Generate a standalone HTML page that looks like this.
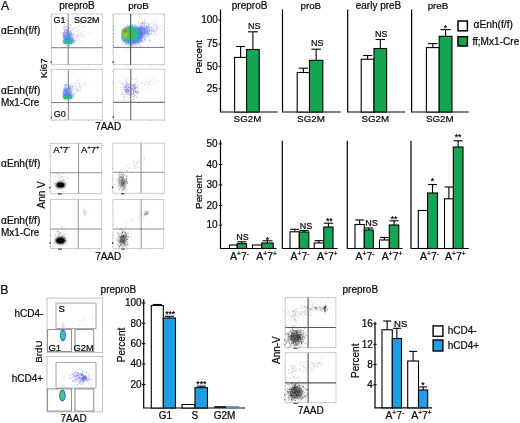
<!DOCTYPE html>
<html><head><meta charset="utf-8"><title>Figure</title>
<style>
html,body{margin:0;padding:0;background:#fff;}
svg{display:block;font-family:"Liberation Sans",Arial,sans-serif;}
text{fill:#0a0a0a;stroke:#0a0a0a;stroke-width:0.22px;}
</style></head><body>
<svg width="520" height="423" viewBox="0 0 520 423">
<defs>
<filter id="b1" x="-50%" y="-50%" width="200%" height="200%"><feGaussianBlur stdDeviation="0.9"/></filter>
<filter id="b2" x="-50%" y="-50%" width="200%" height="200%"><feGaussianBlur stdDeviation="1.6"/></filter>
<filter id="b05" x="-50%" y="-50%" width="200%" height="200%"><feGaussianBlur stdDeviation="0.5"/></filter>
</defs>
<rect width="520" height="423" fill="#fff"/>

<text x="0.9" y="9.6" font-size="12.2" text-anchor="start">A</text>
<text x="77" y="8.8" font-size="10" text-anchor="middle">preproB</text>
<text x="138.5" y="8.8" font-size="9.8" text-anchor="middle">proB</text>
<text x="1" y="34" font-size="10.2" text-anchor="start">αEnh(f/f)</text>
<text x="1" y="94" font-size="10.2" text-anchor="start">αEnh(f/f)</text>
<text x="1" y="105.7" font-size="10" text-anchor="start">Mx1-Cre</text>
<text x="47.5" y="68.2" font-size="9.8" text-anchor="middle" transform="rotate(-90 47.5 68.2)">Ki67</text>
<text x="108.2" y="130.3" font-size="10" text-anchor="middle">7AAD</text>
<text x="1" y="166.5" font-size="10.2" text-anchor="start">αEnh(f/f)</text>
<text x="1" y="224" font-size="10.2" text-anchor="start">αEnh(f/f)</text>
<text x="1" y="235.5" font-size="10" text-anchor="start">Mx1-Cre</text>
<text x="45" y="194.9" font-size="10" text-anchor="middle" transform="rotate(-90 45 194.9)">Ann V</text>
<text x="108.2" y="260.2" font-size="10" text-anchor="middle">7AAD</text>
<rect x="51.40" y="14.00" width="50.90" height="50.70" fill="#fff" stroke="#b8b8b8" stroke-width="0.7"/>
<line x1="68.2" y1="14" x2="68.2" y2="64.7" stroke="#6e6e6e" stroke-width="0.9"/>
<line x1="51.4" y1="47.7" x2="102.3" y2="47.7" stroke="#6e6e6e" stroke-width="0.9"/>
<path d="M53.4 64.7v1M65.1 64.7v1M76.8 64.7v1M88.6 64.7v1M100.3 64.7v1M51.4 16.0h-1M51.4 27.7h-1M51.4 39.4h-1M51.4 51.0h-1M51.4 62.7h-1" stroke="#999" stroke-width="0.5" fill="none"/>
<path d="M73.3 38.1h.01M73.5 33.7h.01M69.0 35.4h.01M82.2 35.4h.01M81.7 34.6h.01M77.6 35.3h.01M64.2 42.2h.01M78.3 36.8h.01M64.0 28.6h.01M69.2 34.0h.01M77.0 34.3h.01M78.4 30.8h.01M77.0 36.6h.01M70.7 45.1h.01M78.6 40.4h.01M71.0 32.1h.01M72.8 35.0h.01M79.1 35.3h.01M72.1 30.7h.01M71.6 42.3h.01M69.7 37.6h.01M77.8 26.5h.01M75.3 41.8h.01M74.3 30.9h.01M78.2 33.9h.01M65.5 41.8h.01M79.4 38.9h.01M84.4 34.5h.01M75.8 28.0h.01M79.0 30.8h.01M72.1 29.1h.01M68.7 33.8h.01M83.4 22.2h.01M65.5 38.7h.01M84.4 35.7h.01M77.3 30.5h.01M67.7 42.0h.01M82.2 34.0h.01M76.6 36.9h.01M85.4 35.6h.01M78.4 37.0h.01M64.8 44.3h.01M81.2 36.2h.01M80.5 24.1h.01M73.8 40.7h.01M66.5 45.6h.01M78.6 33.3h.01M77.1 37.9h.01M75.8 40.8h.01M70.7 33.9h.01M81.8 33.4h.01M69.3 41.4h.01M84.5 30.2h.01M66.0 36.6h.01M74.0 33.7h.01M84.1 27.3h.01M83.2 26.3h.01M69.9 39.6h.01M82.3 37.6h.01M77.2 35.2h.01M76.0 37.8h.01M73.9 36.7h.01M78.7 34.1h.01M80.0 36.7h.01M88.1 33.4h.01M72.2 33.8h.01M74.9 39.9h.01M72.8 37.6h.01M86.9 18.5h.01M67.7 38.1h.01M77.6 35.6h.01M72.2 39.1h.01M76.8 31.8h.01M90.8 32.9h.01M71.4 35.4h.01M73.5 35.0h.01M81.6 27.2h.01M74.6 40.1h.01M80.6 41.4h.01M63.9 36.0h.01M72.8 38.8h.01M82.1 19.1h.01M82.1 25.6h.01M79.4 26.0h.01M76.1 41.0h.01M74.0 36.2h.01M80.2 34.4h.01M74.4 43.2h.01M81.8 31.7h.01M92.8 24.5h.01M80.9 32.1h.01M75.9 38.5h.01M76.4 38.0h.01M65.1 29.6h.01M79.0 28.9h.01M68.3 29.0h.01M83.2 36.8h.01M84.6 27.6h.01M75.0 29.0h.01M80.0 42.1h.01M69.2 44.7h.01M81.4 32.4h.01M74.4 32.0h.01M77.6 36.5h.01M84.7 27.2h.01M82.4 40.9h.01M84.4 31.7h.01M70.2 41.6h.01M75.7 35.5h.01M84.3 31.3h.01M62.9 42.4h.01M77.1 31.3h.01M74.9 39.4h.01M75.5 41.8h.01M74.6 40.6h.01M84.7 41.0h.01M70.6 40.7h.01M62.8 32.4h.01M67.0 37.0h.01M73.8 35.2h.01M71.2 37.2h.01M86.6 32.3h.01M78.5 39.4h.01" stroke="#a9a6e8" stroke-opacity="0.5" stroke-width="0.84" stroke-linecap="round" fill="none"/>
<path d="M66.9 30.3h.01M65.9 40.8h.01M62.9 33.3h.01M70.3 39.6h.01M67.5 39.6h.01M68.0 30.7h.01M63.1 33.1h.01M70.1 33.5h.01M65.0 32.5h.01M63.2 35.5h.01M64.2 37.6h.01M65.7 27.3h.01M69.5 34.8h.01M68.3 33.9h.01M69.7 39.4h.01M69.4 37.5h.01M71.2 39.0h.01M68.8 26.6h.01M70.0 41.9h.01M66.7 33.9h.01M72.9 28.1h.01M64.9 39.1h.01M72.8 35.5h.01M69.1 40.1h.01M65.0 35.6h.01M68.3 39.7h.01M67.4 35.1h.01M64.7 34.4h.01M70.0 36.5h.01M65.1 32.2h.01M75.0 41.1h.01M69.3 24.3h.01M69.2 38.2h.01M72.2 37.9h.01M67.3 38.4h.01M68.4 32.8h.01M71.2 44.1h.01M63.6 33.0h.01M68.3 36.8h.01M66.4 31.6h.01M73.4 40.7h.01M64.2 29.9h.01M72.3 40.5h.01M72.6 39.6h.01M65.1 37.2h.01M67.3 38.4h.01M65.5 35.4h.01M68.8 37.7h.01M69.3 36.9h.01M66.6 39.6h.01M67.6 32.3h.01M65.7 36.0h.01M67.2 36.7h.01M67.5 36.8h.01M67.1 30.3h.01M68.7 40.7h.01M68.7 35.1h.01M68.8 31.7h.01M64.9 39.3h.01M64.5 24.2h.01M64.6 43.1h.01M66.4 29.8h.01M65.4 38.3h.01M68.9 36.8h.01M71.7 39.2h.01M67.4 38.7h.01M72.1 40.4h.01M70.4 31.1h.01M67.1 39.3h.01M66.7 40.8h.01M69.2 40.1h.01M71.0 35.0h.01M66.5 39.9h.01M70.2 36.0h.01M64.2 36.8h.01M68.5 41.1h.01M69.7 36.1h.01M69.9 38.4h.01M68.1 36.2h.01M66.8 39.1h.01M64.5 33.2h.01M67.5 29.4h.01M66.3 27.0h.01M65.6 38.6h.01M69.1 35.8h.01M66.9 29.6h.01M72.6 38.3h.01M70.6 32.0h.01M67.0 27.8h.01M69.7 40.2h.01M69.3 28.1h.01M65.7 29.7h.01M67.6 37.1h.01M69.3 39.2h.01M71.7 41.2h.01M63.8 33.7h.01M64.5 31.2h.01M67.3 36.0h.01M68.9 28.9h.01M64.0 35.9h.01M66.9 34.6h.01M67.3 32.6h.01M69.5 37.6h.01M67.3 33.0h.01M67.0 23.8h.01M64.8 36.2h.01M63.3 36.9h.01M67.9 29.8h.01M66.8 34.6h.01M68.8 38.8h.01M67.4 32.2h.01M67.1 35.7h.01M69.6 37.3h.01M65.5 29.9h.01M66.5 32.7h.01M64.4 35.5h.01M66.1 36.5h.01M69.0 34.1h.01M74.0 34.6h.01M70.6 36.5h.01M70.6 25.3h.01M65.4 37.1h.01M68.4 41.8h.01M69.6 40.3h.01M68.9 35.3h.01M68.9 31.1h.01M70.8 31.4h.01M68.2 45.5h.01M66.9 36.1h.01M70.8 36.1h.01M65.2 37.2h.01M69.1 39.2h.01M65.3 43.9h.01M72.2 36.1h.01M68.3 34.1h.01M71.5 32.8h.01M69.4 33.8h.01M65.6 39.2h.01M71.2 36.0h.01M65.6 39.7h.01M67.4 37.4h.01M71.8 41.1h.01M66.0 46.3h.01M67.5 39.5h.01M65.7 35.8h.01M71.3 30.5h.01M63.3 28.7h.01M70.8 33.9h.01M67.3 34.6h.01M67.2 31.1h.01M67.6 29.5h.01M67.3 37.4h.01M68.8 35.0h.01M65.0 36.7h.01M66.1 43.0h.01M69.6 35.5h.01M66.2 32.8h.01M64.9 34.4h.01M68.3 38.3h.01M69.1 45.4h.01M65.5 36.1h.01M75.3 27.6h.01M66.0 36.8h.01M67.9 37.8h.01M66.8 37.6h.01M67.6 39.5h.01M67.5 31.4h.01M64.6 38.8h.01M65.7 38.9h.01M69.6 37.4h.01M68.9 35.5h.01M63.6 35.9h.01M68.8 33.6h.01M67.2 39.4h.01M65.0 38.9h.01M72.7 33.5h.01M67.9 35.3h.01M71.8 37.4h.01M70.0 32.9h.01M67.5 36.0h.01M70.0 28.1h.01M69.6 35.4h.01M68.8 37.6h.01M63.3 35.0h.01M71.7 33.4h.01M64.6 29.9h.01M64.1 37.5h.01M72.2 37.9h.01M68.2 46.1h.01M66.0 33.0h.01M69.0 38.5h.01M64.7 30.7h.01M68.3 37.1h.01M63.8 35.1h.01M66.0 38.1h.01M67.2 35.6h.01M66.5 40.7h.01M71.4 34.3h.01M69.9 32.6h.01M67.7 39.4h.01M71.7 34.3h.01M67.3 36.9h.01M63.3 36.1h.01M65.6 37.7h.01M64.3 27.1h.01M67.6 37.2h.01M66.0 40.0h.01M66.7 33.3h.01M68.8 28.9h.01M65.6 35.9h.01M69.9 35.3h.01M68.4 33.1h.01M68.3 43.5h.01M65.7 36.1h.01M68.0 40.6h.01M64.0 26.5h.01M69.2 39.6h.01M68.1 37.1h.01M70.1 37.7h.01M72.2 30.4h.01M66.4 20.5h.01M69.8 34.3h.01M70.1 45.7h.01M67.5 34.9h.01M66.1 32.2h.01M65.7 38.9h.01M67.6 36.3h.01M67.0 40.1h.01M68.9 35.4h.01M69.4 35.3h.01M64.3 42.5h.01M68.8 31.7h.01M70.5 37.6h.01M63.1 43.2h.01M68.4 40.0h.01M68.1 35.3h.01M63.2 40.4h.01M67.6 34.7h.01M68.5 36.4h.01M69.4 34.3h.01M67.4 26.4h.01M66.3 39.0h.01M71.2 34.4h.01M67.2 43.1h.01" stroke="#5b7be0" stroke-opacity="0.6" stroke-width="0.9" stroke-linecap="round" fill="none"/>
<clipPath id="cpa"><rect x="62.4" y="14" width="40" height="33"/></clipPath><g clip-path="url(#cpa)">
<ellipse cx="67" cy="36.5" rx="3.8" ry="6" fill="#6f8fe8" fill-opacity="0.6" filter="url(#b1)"/>
<ellipse cx="68.5" cy="40.8" rx="5.8" ry="3.2" fill="#3f86e6" fill-opacity="0.8" filter="url(#b1)"/>
<ellipse cx="68.5" cy="42" rx="5.2" ry="1.9" fill="#27b9d6" fill-opacity="0.85" filter="url(#b05)"/>
<ellipse cx="67.8" cy="42.2" rx="4" ry="1.3" fill="#35c24a" fill-opacity="0.95" filter="url(#b05)"/>
</g>
<text x="53.6" y="22.6" font-size="9" text-anchor="start">G1</text>
<text x="73.9" y="22.6" font-size="9" text-anchor="start">SG2M</text>
<rect x="113.10" y="14.00" width="51.20" height="50.70" fill="#fff" stroke="#b8b8b8" stroke-width="0.7"/>
<line x1="130.6" y1="14" x2="130.6" y2="64.7" stroke="#666" stroke-width="0.9"/>
<line x1="113.1" y1="47.4" x2="164.3" y2="47.4" stroke="#666" stroke-width="0.9"/>
<path d="M115.1 64.7v1M126.9 64.7v1M138.7 64.7v1M150.5 64.7v1M162.3 64.7v1M113.1 16.0h-1M113.1 27.7h-1M113.1 39.4h-1M113.1 51.0h-1M113.1 62.7h-1" stroke="#999" stroke-width="0.5" fill="none"/>
<path d="M144.4 33.6h.01M160.4 26.8h.01M156.8 24.7h.01M148.7 29.3h.01M147.9 34.3h.01M142.4 33.2h.01M138.6 34.1h.01M151.6 27.7h.01M151.2 22.7h.01M153.1 22.3h.01M141.4 29.2h.01M143.8 34.3h.01M147.7 28.2h.01M151.3 35.3h.01M147.0 31.5h.01M156.9 28.6h.01M136.7 42.6h.01M146.7 31.8h.01M154.7 30.7h.01M144.8 26.3h.01M147.8 33.9h.01M138.3 28.1h.01M146.8 22.3h.01M144.9 28.8h.01M150.6 26.3h.01M139.9 30.2h.01M146.6 27.4h.01M147.1 33.0h.01M156.5 34.5h.01M140.7 29.9h.01M127.1 42.7h.01M141.2 31.3h.01M151.2 23.5h.01M150.7 29.0h.01M132.4 34.9h.01M156.6 20.1h.01M153.5 29.2h.01M150.8 30.8h.01M157.4 26.5h.01M154.0 26.6h.01M152.8 25.3h.01M146.1 37.2h.01M150.6 28.5h.01M137.8 29.1h.01M148.5 33.4h.01M150.4 31.2h.01M146.7 35.5h.01M143.9 28.6h.01M154.1 28.5h.01M144.8 28.2h.01M144.9 33.0h.01M149.8 24.4h.01M150.4 29.9h.01M139.0 35.1h.01M144.8 29.2h.01M153.4 33.7h.01M141.5 33.2h.01M140.0 41.1h.01M143.0 35.8h.01M141.8 34.6h.01M143.5 32.9h.01M146.3 27.5h.01M133.8 36.8h.01M133.2 38.1h.01M142.4 31.8h.01M157.1 27.9h.01M135.9 26.0h.01M156.5 30.6h.01M140.5 35.1h.01M151.0 31.6h.01M128.9 33.4h.01M154.2 31.1h.01M154.1 18.3h.01M148.4 31.6h.01M144.4 30.8h.01M154.1 26.4h.01M156.2 24.5h.01M149.1 27.3h.01M148.3 26.9h.01M134.2 37.6h.01M149.4 27.1h.01M148.6 33.6h.01M139.2 31.5h.01M151.3 31.0h.01M144.3 22.2h.01M156.9 28.8h.01M147.1 28.9h.01M149.1 27.8h.01M138.8 29.1h.01M142.2 28.7h.01M137.7 34.9h.01M136.5 35.3h.01M138.9 33.5h.01M158.0 28.0h.01M141.2 31.7h.01M148.2 22.7h.01M142.1 31.9h.01M143.2 31.3h.01M152.9 31.6h.01M154.2 30.5h.01M144.7 30.5h.01M144.8 29.3h.01M145.6 23.4h.01M144.3 30.6h.01M139.2 31.9h.01M151.1 28.3h.01M163.6 15.3h.01M145.3 23.1h.01M154.8 38.7h.01M127.0 35.6h.01M151.2 27.7h.01M151.4 19.9h.01M153.8 29.8h.01M147.2 27.6h.01M152.1 26.8h.01M148.8 27.5h.01M129.0 34.4h.01M148.6 32.6h.01M140.0 31.6h.01M151.9 29.3h.01M156.9 35.5h.01M139.7 24.1h.01M153.9 34.4h.01M154.4 31.4h.01M142.1 28.4h.01M154.1 24.5h.01M132.5 29.7h.01M141.5 28.5h.01M148.9 26.5h.01M157.5 27.0h.01M138.3 37.5h.01M142.3 32.1h.01M146.9 28.8h.01M149.6 26.6h.01M132.2 24.9h.01M136.9 29.5h.01M146.8 30.3h.01M151.4 29.4h.01M140.7 28.8h.01M130.0 33.6h.01M150.9 31.1h.01M146.0 29.5h.01M154.5 28.2h.01M152.9 30.8h.01M148.7 34.8h.01M142.4 29.7h.01M140.5 28.4h.01M159.4 33.9h.01M147.2 32.2h.01M156.4 30.9h.01M156.6 22.5h.01M141.9 33.1h.01M158.5 27.5h.01M140.1 30.3h.01M141.7 27.9h.01M159.0 24.4h.01M147.2 38.6h.01M156.5 29.0h.01M142.1 32.9h.01M160.0 29.2h.01M157.1 27.8h.01M151.1 28.1h.01M150.4 34.4h.01M135.6 32.6h.01M148.9 27.2h.01M144.5 33.8h.01M163.0 28.5h.01M149.6 23.1h.01M162.4 26.4h.01M146.7 25.6h.01M146.5 25.7h.01M147.6 31.7h.01M147.2 31.1h.01M140.2 37.5h.01M141.8 24.0h.01M145.5 27.3h.01M138.9 30.6h.01M149.3 24.7h.01M145.9 36.0h.01M152.5 28.0h.01M148.0 29.3h.01M146.6 33.0h.01M146.3 20.5h.01M146.8 26.5h.01M152.2 26.2h.01M148.2 38.4h.01M138.6 27.6h.01M135.7 23.2h.01M132.0 35.3h.01M141.9 23.8h.01M135.1 35.5h.01M140.8 30.1h.01M149.6 34.8h.01M162.5 30.2h.01M148.1 30.4h.01M161.4 32.1h.01M144.5 32.5h.01M149.3 29.6h.01M143.0 25.7h.01M142.7 24.9h.01M156.8 29.7h.01M137.4 38.1h.01M154.1 20.5h.01M161.7 29.5h.01M163.5 20.9h.01M151.2 30.6h.01M148.6 30.3h.01M155.4 21.9h.01M137.1 26.9h.01M142.5 28.7h.01M149.9 30.3h.01M147.3 27.2h.01M143.5 34.7h.01M153.1 28.9h.01M144.4 36.9h.01M142.2 33.8h.01M156.2 26.6h.01M153.6 23.8h.01M155.1 28.8h.01M134.3 35.9h.01M139.9 37.0h.01M141.6 30.7h.01M149.3 28.1h.01M149.1 27.3h.01M152.4 28.7h.01M148.7 18.5h.01M156.3 27.8h.01M132.7 34.0h.01M150.7 33.4h.01M138.3 38.4h.01M145.7 39.9h.01M145.8 33.0h.01M144.1 26.3h.01M155.8 31.4h.01M159.3 30.3h.01M142.4 24.5h.01M141.8 28.6h.01M140.5 34.0h.01M149.6 28.3h.01M148.4 29.1h.01M148.7 32.6h.01M154.7 25.3h.01M134.9 38.8h.01M147.9 34.2h.01M133.9 32.0h.01M147.2 24.2h.01M142.9 34.0h.01M155.6 34.2h.01M140.1 26.1h.01M151.2 32.7h.01M148.5 24.4h.01M153.3 31.6h.01M151.4 26.9h.01M149.4 32.6h.01M142.5 23.7h.01M149.6 31.3h.01M147.1 33.5h.01M142.3 30.9h.01M144.6 32.9h.01M159.8 25.8h.01M163.4 32.0h.01M153.3 30.8h.01M161.2 25.7h.01M146.1 26.0h.01M150.8 34.4h.01M151.3 30.6h.01M145.4 31.1h.01M135.6 37.1h.01M143.7 26.4h.01M141.0 28.2h.01M153.8 32.5h.01M136.1 36.5h.01M154.1 25.9h.01M135.1 30.0h.01M141.9 32.7h.01M144.1 22.6h.01M148.9 23.4h.01M154.2 23.3h.01M141.5 28.0h.01M142.7 36.3h.01M153.8 30.7h.01M149.6 23.1h.01M142.8 28.8h.01M139.2 34.0h.01M141.1 28.6h.01M138.6 23.8h.01M151.8 34.1h.01M148.4 25.7h.01M125.4 36.2h.01M156.7 28.7h.01M154.4 34.1h.01M156.0 25.9h.01M155.4 31.0h.01M134.7 31.5h.01" stroke="#a5a3ea" stroke-opacity="0.42" stroke-width="0.9" stroke-linecap="round" fill="none"/>
<path d="M129.5 35.8h.01M141.5 27.4h.01M125.7 44.2h.01M140.3 41.1h.01M130.1 41.7h.01M150.4 41.1h.01M136.7 35.8h.01M137.1 39.5h.01M144.2 32.7h.01M129.8 40.1h.01M135.2 38.1h.01M139.6 42.1h.01M144.8 29.8h.01M140.1 42.7h.01M134.8 37.2h.01M145.1 38.6h.01M141.1 26.2h.01M130.4 37.4h.01M140.3 46.7h.01M132.8 41.4h.01M142.6 24.0h.01M133.1 36.2h.01M135.0 34.0h.01M140.8 29.0h.01M140.8 29.9h.01M134.7 37.7h.01M134.6 36.5h.01M147.6 31.5h.01M137.1 38.1h.01M135.8 40.3h.01M130.3 39.4h.01M134.9 30.7h.01M148.6 26.6h.01M148.5 34.6h.01M146.7 26.5h.01M145.2 39.7h.01M137.3 33.5h.01M152.7 30.9h.01M135.5 31.4h.01M140.7 35.0h.01M139.1 42.7h.01M136.0 37.0h.01M146.8 26.3h.01M144.2 41.9h.01M129.9 30.5h.01M131.8 26.0h.01M140.7 23.5h.01M141.0 40.8h.01M128.3 35.0h.01M126.5 41.3h.01M133.6 33.8h.01M138.3 36.8h.01M135.9 34.7h.01M134.7 35.5h.01M131.0 36.3h.01M126.4 34.6h.01M149.5 31.3h.01M130.4 37.4h.01M132.2 26.9h.01M133.6 39.1h.01M140.3 32.9h.01M132.4 29.9h.01M146.1 33.1h.01M132.3 24.5h.01M129.8 49.2h.01M131.1 35.5h.01M139.3 32.8h.01M136.3 27.3h.01M131.7 44.6h.01M133.5 39.7h.01M127.8 35.4h.01M139.6 39.0h.01M131.3 39.0h.01M140.3 29.5h.01M140.9 28.5h.01M133.2 35.2h.01M121.7 37.9h.01M132.0 28.0h.01M135.4 38.7h.01M135.6 41.3h.01M131.0 29.0h.01M147.3 33.5h.01M143.7 28.1h.01M142.8 34.0h.01M141.9 33.1h.01M145.2 28.6h.01M132.2 27.8h.01M145.0 28.2h.01M131.7 30.8h.01M135.3 28.1h.01M136.3 31.2h.01M134.7 29.9h.01M138.2 31.5h.01M138.7 35.1h.01M140.0 22.0h.01M134.8 30.7h.01M142.6 24.4h.01M133.7 33.6h.01M136.0 39.8h.01M135.3 39.8h.01M129.2 26.9h.01M145.3 34.3h.01M140.9 33.8h.01M140.9 26.8h.01M143.7 29.6h.01M143.9 32.8h.01M126.2 30.5h.01M144.8 31.4h.01M135.6 35.9h.01M135.4 31.8h.01M138.6 34.6h.01M147.1 31.7h.01M149.3 40.4h.01M148.3 36.7h.01M138.8 34.5h.01M137.1 30.4h.01M137.6 30.7h.01M147.8 34.1h.01M135.3 24.7h.01M137.7 31.9h.01M131.5 29.8h.01M124.5 40.7h.01M137.6 47.7h.01M137.8 33.3h.01M146.7 32.3h.01M139.0 31.8h.01M134.4 42.9h.01M144.0 41.4h.01M135.9 34.7h.01M132.7 40.5h.01M129.6 39.3h.01M144.6 39.6h.01M132.4 41.3h.01M133.7 31.2h.01M130.1 42.2h.01M147.9 28.2h.01M133.4 33.5h.01M153.0 35.1h.01M134.7 25.5h.01M134.0 41.3h.01M149.2 29.5h.01M133.9 32.5h.01M126.7 41.9h.01M131.5 41.4h.01M127.8 30.2h.01M139.7 29.5h.01M142.7 32.8h.01M131.0 39.2h.01M143.1 22.6h.01M149.0 33.6h.01M142.6 23.0h.01M133.7 33.4h.01M144.5 24.6h.01M132.7 24.8h.01M136.6 36.2h.01M127.9 33.7h.01M141.1 41.5h.01M142.0 31.3h.01M130.9 31.0h.01M134.0 35.9h.01M137.7 42.8h.01M139.7 27.9h.01M147.3 36.4h.01M138.6 30.0h.01M126.8 31.7h.01M143.5 28.3h.01M130.1 37.2h.01M139.5 36.8h.01M141.9 40.3h.01M133.0 40.5h.01M132.1 39.3h.01M139.1 35.0h.01M143.8 32.3h.01M144.7 36.8h.01M138.8 30.8h.01M133.5 32.5h.01M136.8 34.2h.01M155.9 32.4h.01M142.6 28.2h.01M133.7 33.5h.01M139.2 28.2h.01M147.7 28.4h.01M144.5 20.0h.01M138.0 35.5h.01M139.1 36.8h.01M139.7 34.4h.01M126.6 33.4h.01M123.9 41.2h.01M139.8 32.5h.01M133.1 32.3h.01M149.1 40.0h.01M137.7 40.9h.01M128.5 26.5h.01M135.1 30.2h.01M134.6 35.9h.01M156.1 25.5h.01M138.3 35.4h.01M137.8 38.9h.01M148.7 24.5h.01M139.0 32.3h.01M140.1 25.4h.01M127.5 24.7h.01M141.2 34.1h.01M138.4 21.5h.01M135.8 30.7h.01M129.5 31.5h.01M142.2 35.7h.01M137.9 36.7h.01M134.4 35.4h.01M138.2 36.8h.01M137.6 33.4h.01M137.2 30.8h.01M151.4 33.0h.01M140.6 45.3h.01M146.4 23.5h.01M142.2 37.2h.01M149.3 37.8h.01M142.6 26.6h.01M132.8 36.8h.01M141.0 27.8h.01M135.7 32.5h.01M138.4 35.7h.01M136.3 28.0h.01M145.5 40.3h.01M137.4 39.6h.01M140.7 36.7h.01M140.9 29.2h.01M141.4 38.4h.01M132.6 45.8h.01M150.5 40.1h.01M149.9 34.6h.01M136.0 31.4h.01M133.1 35.9h.01M137.8 37.6h.01M125.9 49.5h.01M151.7 30.1h.01M142.1 35.4h.01M139.6 32.5h.01M137.3 29.9h.01M139.1 33.6h.01M139.9 29.0h.01M138.2 34.2h.01M141.6 27.4h.01M140.5 38.5h.01M141.6 31.1h.01M135.1 33.6h.01M142.4 40.9h.01M137.1 30.9h.01M140.3 34.5h.01M132.6 31.6h.01M137.4 37.7h.01M130.8 30.6h.01M141.0 26.8h.01M138.7 35.7h.01M137.3 28.8h.01M137.6 32.4h.01M140.0 29.0h.01M144.5 23.4h.01M136.9 34.3h.01M143.8 29.2h.01M141.3 30.1h.01M142.4 41.9h.01M135.6 37.0h.01M132.4 40.6h.01M145.3 32.2h.01M131.2 38.0h.01M144.9 37.8h.01M142.9 23.1h.01M133.9 42.6h.01M130.6 42.0h.01M149.3 34.9h.01M144.7 30.4h.01M130.6 35.5h.01M136.8 34.1h.01M142.2 32.1h.01M139.2 35.9h.01M138.0 43.7h.01M140.7 33.7h.01M136.8 31.1h.01M146.1 32.6h.01M131.5 32.8h.01M137.2 31.9h.01M144.5 26.1h.01M141.0 33.9h.01M130.9 36.2h.01M137.4 36.8h.01M135.3 36.3h.01M128.0 31.1h.01M142.7 38.2h.01M137.9 30.9h.01M144.5 21.2h.01M133.2 38.8h.01M141.9 27.5h.01M126.7 44.7h.01M138.9 29.0h.01M138.3 38.6h.01M122.4 44.1h.01M142.4 21.9h.01M142.6 23.4h.01M144.8 34.2h.01" stroke="#5f72e2" stroke-opacity="0.5" stroke-width="1.0" stroke-linecap="round" fill="none"/>
<clipPath id="cpb"><rect x="121.2" y="14" width="45" height="33"/></clipPath><g clip-path="url(#cpb)">
<ellipse cx="141" cy="31.5" rx="8" ry="5" fill="#6276e8" fill-opacity="0.7" filter="url(#b2)" transform="rotate(-12 141 31.5)"/>
<ellipse cx="132" cy="35.5" rx="11" ry="9.3" fill="#4a66e8" fill-opacity="0.85" filter="url(#b2)"/>
<ellipse cx="130.5" cy="34.3" rx="9" ry="7.6" fill="#1fb4dc" fill-opacity="0.9" filter="url(#b1)"/>
<ellipse cx="129.8" cy="33.8" rx="7.8" ry="6.5" fill="#2cc45a" fill-opacity="0.95" filter="url(#b1)"/>
<ellipse cx="125.2" cy="33.8" rx="2.6" ry="4.6" fill="#a4d42c" fill-opacity="0.9" filter="url(#b1)"/>
<ellipse cx="125" cy="31" rx="2.2" ry="1.8" fill="#e0601c" fill-opacity="0.95" filter="url(#b05)"/>
</g>
<line x1="130.6" y1="14" x2="130.6" y2="64.7" stroke="#555" stroke-width="0.9"/>
<path d="M113.4 18v1.2M113.4 21.5v1.2" stroke="#e8a020" stroke-width="0.9"/><path d="M113.4 25v1.2M113.4 29v1.5M113.4 41v1.2M113.4 45v1.2" stroke="#43b85a" stroke-width="0.9"/><path d="M113.4 33v1.5M113.4 37v1" stroke="#3c9be0" stroke-width="0.9"/>
<rect x="51.40" y="69.40" width="50.90" height="50.60" fill="#fff" stroke="#b8b8b8" stroke-width="0.7"/>
<line x1="68.3" y1="69.4" x2="68.3" y2="120" stroke="#6e6e6e" stroke-width="0.9"/>
<line x1="51.4" y1="102.6" x2="102.3" y2="102.6" stroke="#6e6e6e" stroke-width="0.9"/>
<path d="M53.4 120v1M65.1 120v1M76.8 120v1M88.6 120v1M100.3 120v1M51.4 71.4h-1M51.4 83.1h-1M51.4 94.7h-1M51.4 106.3h-1M51.4 118.0h-1" stroke="#999" stroke-width="0.5" fill="none"/>
<path d="M88.5 82.4h.01M75.0 93.3h.01M71.2 87.2h.01M72.8 89.4h.01M68.5 92.9h.01M78.3 88.3h.01M85.2 84.6h.01M82.8 84.4h.01M79.5 79.7h.01M76.2 87.9h.01M72.0 87.4h.01M72.9 86.7h.01M71.7 87.8h.01M68.7 90.3h.01M79.7 86.6h.01M72.0 95.5h.01M80.9 91.0h.01M81.9 85.6h.01M74.2 93.8h.01M71.7 89.5h.01M77.3 89.9h.01M73.3 93.6h.01M73.9 92.3h.01M81.4 89.8h.01M79.4 82.9h.01M67.1 88.8h.01M77.9 94.3h.01M67.7 92.5h.01M69.9 87.5h.01M73.3 92.4h.01M76.3 93.5h.01M69.1 94.4h.01M80.6 87.6h.01M77.9 85.8h.01M68.5 89.3h.01M72.1 96.7h.01M76.2 89.9h.01M79.5 84.4h.01M80.5 88.9h.01M65.9 94.2h.01M78.3 89.9h.01M84.5 84.4h.01M78.1 91.2h.01M69.6 95.6h.01M66.3 86.2h.01M78.1 83.6h.01M74.3 82.4h.01M75.4 84.2h.01M77.1 82.1h.01M77.7 87.1h.01M75.4 88.6h.01M75.8 83.3h.01M69.4 88.8h.01M77.6 80.0h.01M70.4 87.9h.01M68.7 92.3h.01M74.2 85.9h.01M69.1 94.1h.01M71.0 92.6h.01M77.7 80.4h.01M68.5 91.0h.01M77.1 91.6h.01M79.8 91.8h.01M72.8 88.8h.01M79.7 85.8h.01M81.3 80.5h.01M78.9 87.1h.01M63.2 96.6h.01M76.9 88.5h.01M68.5 89.0h.01M84.1 82.9h.01M67.8 90.6h.01M72.6 85.9h.01M69.9 94.8h.01M66.3 99.7h.01M71.7 85.5h.01M79.7 89.9h.01M68.7 94.0h.01M64.0 88.5h.01M81.8 85.9h.01M67.2 93.5h.01M80.5 87.3h.01M64.2 90.8h.01M77.5 91.4h.01M86.1 84.6h.01M72.1 89.7h.01M82.2 82.9h.01M82.8 75.3h.01M79.8 84.8h.01M77.8 91.0h.01M67.9 90.8h.01M76.4 91.0h.01M69.4 86.6h.01M73.8 88.4h.01M66.0 95.5h.01M71.8 95.9h.01M80.1 87.6h.01M79.4 83.1h.01M73.0 87.2h.01M67.4 91.4h.01M74.1 95.2h.01M69.5 88.7h.01M77.5 89.9h.01M75.2 87.0h.01M78.0 89.6h.01M63.9 91.2h.01M66.8 86.6h.01M75.9 89.0h.01M75.7 85.2h.01M73.8 85.6h.01M77.3 91.2h.01M85.5 91.1h.01M70.2 88.6h.01M69.4 92.0h.01M86.9 88.4h.01M67.2 93.5h.01M75.0 90.2h.01M85.7 82.4h.01M69.9 98.6h.01M77.1 85.2h.01M62.8 86.4h.01M75.3 93.0h.01" stroke="#a9a6e8" stroke-opacity="0.5" stroke-width="0.84" stroke-linecap="round" fill="none"/>
<path d="M66.6 89.2h.01M64.9 99.6h.01M67.1 94.5h.01M65.9 94.0h.01M69.3 91.4h.01M65.7 91.3h.01M64.3 91.2h.01M66.2 92.8h.01M70.7 97.2h.01M65.8 94.4h.01M67.8 95.0h.01M67.1 93.1h.01M65.7 88.9h.01M69.4 97.2h.01M68.9 93.7h.01M67.7 90.2h.01M67.6 89.8h.01M64.3 97.1h.01M68.8 101.5h.01M65.0 91.9h.01M65.6 92.6h.01M66.4 89.0h.01M70.0 88.9h.01M65.6 94.2h.01M65.5 90.3h.01M68.0 90.5h.01M63.5 91.6h.01M66.4 98.8h.01M63.9 95.9h.01M64.8 90.6h.01M66.1 93.1h.01M69.4 99.0h.01M65.2 97.3h.01M69.8 95.3h.01M64.9 95.6h.01M66.7 93.4h.01M66.2 94.7h.01M70.1 96.5h.01M66.4 96.0h.01M71.1 88.3h.01M71.1 86.7h.01M68.5 94.4h.01M71.2 93.1h.01M65.7 88.8h.01M63.5 95.1h.01M66.3 89.1h.01M68.5 88.9h.01M65.8 90.2h.01M71.6 97.9h.01M66.6 85.7h.01M67.8 92.3h.01M68.0 94.3h.01M66.1 95.7h.01M69.3 92.8h.01M65.9 90.1h.01M68.9 87.6h.01M66.6 89.0h.01M63.1 94.4h.01M66.9 92.1h.01M69.4 86.0h.01M66.8 93.2h.01M69.3 87.7h.01M69.0 92.9h.01M70.8 96.6h.01M68.5 100.6h.01M67.0 90.3h.01M66.0 88.2h.01M66.9 84.5h.01M66.8 93.7h.01M69.8 90.6h.01M70.9 89.4h.01M66.6 84.5h.01M64.9 88.8h.01M71.1 94.1h.01M64.0 94.1h.01M68.3 91.1h.01M67.1 90.8h.01M65.5 85.1h.01M66.8 97.0h.01M70.9 90.9h.01M65.0 91.2h.01M69.5 93.4h.01M65.4 93.4h.01M66.4 94.0h.01M65.9 86.3h.01M67.2 95.0h.01M64.0 91.6h.01M69.4 90.5h.01M65.2 99.9h.01M69.3 96.0h.01M64.4 98.4h.01M69.0 97.2h.01M64.5 89.4h.01M67.5 84.5h.01M68.7 94.2h.01M65.8 94.1h.01M69.1 93.2h.01M68.4 97.9h.01M65.7 92.6h.01M65.6 96.0h.01M65.9 93.8h.01M67.4 92.3h.01M71.7 91.7h.01M70.8 95.2h.01M70.6 91.4h.01M69.5 94.9h.01M65.3 93.0h.01M66.7 91.9h.01M70.5 89.2h.01M65.8 89.5h.01M67.0 94.2h.01M71.8 93.2h.01M68.3 89.2h.01M68.6 97.2h.01M70.6 84.5h.01M69.4 98.1h.01M69.2 86.2h.01M66.2 94.3h.01M68.1 88.9h.01M64.6 95.7h.01M63.4 97.5h.01M67.1 93.2h.01M63.4 89.7h.01M68.9 86.3h.01M72.6 86.6h.01M63.7 92.2h.01M68.3 94.8h.01M66.0 91.2h.01M66.4 89.8h.01M67.7 92.6h.01M65.3 93.0h.01M67.0 91.7h.01M70.0 85.4h.01M67.7 87.9h.01M66.1 97.8h.01M64.1 91.6h.01M65.4 95.6h.01M64.4 85.5h.01M68.4 90.6h.01M66.1 96.2h.01M64.6 90.6h.01M67.4 93.6h.01M65.6 96.0h.01M73.0 90.4h.01M72.0 83.9h.01M70.8 90.7h.01M67.4 90.7h.01M65.3 87.1h.01M65.9 97.0h.01M70.1 90.7h.01M65.6 89.3h.01M63.8 98.9h.01M68.8 92.5h.01M65.7 88.1h.01M70.5 95.0h.01M64.4 95.8h.01M64.0 94.5h.01M64.4 90.4h.01M68.3 93.7h.01M69.7 88.8h.01M71.2 97.2h.01M67.0 93.8h.01M64.9 91.4h.01M63.4 92.3h.01M67.5 97.2h.01M69.5 95.1h.01M66.0 91.1h.01M66.1 92.9h.01M67.1 90.0h.01M71.5 91.6h.01M71.2 96.5h.01M65.7 93.5h.01M70.5 90.7h.01M67.2 89.9h.01M67.2 90.6h.01M67.2 95.8h.01M70.7 92.5h.01M67.5 95.3h.01M66.2 87.9h.01M70.0 88.4h.01M69.5 88.3h.01M71.9 88.0h.01M69.3 97.8h.01M64.4 97.7h.01M64.8 85.2h.01M68.9 94.7h.01M66.5 82.3h.01M66.9 90.8h.01M66.0 90.9h.01M71.8 97.9h.01M66.0 89.3h.01M68.1 96.1h.01M68.9 87.5h.01M67.4 92.5h.01M70.9 96.6h.01M68.4 96.7h.01M65.9 97.9h.01M65.9 93.5h.01M69.5 88.5h.01M65.1 85.2h.01M67.4 91.8h.01M66.1 93.9h.01M67.2 91.0h.01M69.1 98.7h.01M65.8 88.4h.01M65.4 92.4h.01M68.6 88.7h.01M69.7 88.1h.01M69.2 93.6h.01M68.2 100.3h.01M66.3 91.4h.01M68.3 95.3h.01M63.4 93.1h.01M65.0 94.4h.01M70.7 92.2h.01M66.7 92.7h.01M68.5 92.6h.01M65.9 89.2h.01M66.5 96.7h.01M66.7 97.2h.01M67.7 91.9h.01M70.4 87.0h.01M64.3 87.8h.01M65.5 94.5h.01M68.6 84.2h.01M70.9 89.7h.01M65.4 98.4h.01" stroke="#5b7be0" stroke-opacity="0.6" stroke-width="0.9" stroke-linecap="round" fill="none"/>
<clipPath id="cpc"><rect x="62.4" y="69" width="40" height="33"/></clipPath><g clip-path="url(#cpc)">
<ellipse cx="66.5" cy="92.5" rx="3.6" ry="5" fill="#6f8fe8" fill-opacity="0.6" filter="url(#b1)"/>
<ellipse cx="68" cy="96" rx="5.6" ry="3" fill="#3f86e6" fill-opacity="0.8" filter="url(#b1)"/>
<ellipse cx="67.5" cy="97.2" rx="4.8" ry="1.8" fill="#27b9d6" fill-opacity="0.85" filter="url(#b05)"/>
<ellipse cx="66.8" cy="97.5" rx="3.6" ry="1.3" fill="#35c24a" fill-opacity="0.95" filter="url(#b05)"/>
</g>
<text x="53.8" y="116.6" font-size="9" text-anchor="start">G0</text>
<rect x="113.30" y="69.20" width="51.50" height="50.80" fill="#fff" stroke="#b8b8b8" stroke-width="0.7"/>
<line x1="130.8" y1="69.2" x2="130.8" y2="120" stroke="#555" stroke-width="1"/>
<line x1="113.3" y1="102.3" x2="164.8" y2="102.3" stroke="#555" stroke-width="1"/>
<path d="M115.3 120v1M127.2 120v1M139.1 120v1M150.9 120v1M162.8 120v1M113.3 71.2h-1M113.3 82.9h-1M113.3 94.6h-1M113.3 106.3h-1M113.3 118.0h-1" stroke="#999" stroke-width="0.5" fill="none"/>
<path d="M126.8 84.0h.01M125.4 86.1h.01M124.5 87.7h.01M129.2 90.4h.01M123.6 100.2h.01M124.5 89.5h.01M127.1 92.1h.01M126.2 90.8h.01M132.3 89.4h.01M124.3 90.3h.01M125.0 87.5h.01M127.5 90.4h.01M126.3 92.4h.01M126.5 83.7h.01M129.2 87.5h.01M130.0 86.4h.01M128.4 90.3h.01M120.3 83.0h.01M124.2 94.7h.01M122.3 92.7h.01M129.7 91.0h.01M128.7 87.0h.01M127.0 89.9h.01M128.1 91.9h.01M126.5 86.2h.01M125.6 90.7h.01M122.9 83.9h.01M126.0 86.8h.01M126.3 78.3h.01M126.1 88.0h.01M128.9 81.0h.01M126.2 90.9h.01M128.2 93.8h.01M129.6 84.8h.01M128.6 87.6h.01M125.0 95.2h.01M125.4 85.6h.01M126.0 85.6h.01M129.5 90.5h.01M130.5 90.7h.01M125.5 93.2h.01M125.4 87.1h.01M126.6 89.2h.01M130.0 86.6h.01M127.9 88.9h.01M123.9 84.6h.01M126.5 90.6h.01M127.8 90.9h.01M127.1 87.2h.01M128.1 84.9h.01M123.6 87.7h.01M123.4 86.9h.01M125.1 86.8h.01M126.9 85.8h.01M125.9 82.1h.01M127.4 85.4h.01M128.0 77.6h.01M125.0 90.0h.01M120.9 87.5h.01M127.2 89.4h.01M123.2 89.9h.01M127.4 85.1h.01M128.9 88.8h.01M127.0 87.2h.01M128.4 89.4h.01M129.9 90.8h.01M125.5 88.1h.01M129.3 87.5h.01M128.0 91.1h.01M126.5 79.6h.01M127.3 89.9h.01M127.3 85.9h.01M130.0 88.5h.01M125.4 86.1h.01M127.9 84.6h.01M124.5 97.1h.01M130.3 93.3h.01M130.4 91.4h.01M122.8 93.9h.01M130.1 91.0h.01M122.1 94.1h.01M130.4 87.0h.01M127.3 92.2h.01M126.8 93.5h.01M127.2 91.8h.01M127.2 83.0h.01M124.5 101.9h.01M127.7 94.3h.01M129.9 96.0h.01M128.4 86.6h.01M127.0 81.2h.01M126.5 92.7h.01M121.5 89.8h.01M129.1 94.4h.01M124.7 86.3h.01M122.3 84.8h.01M128.3 97.4h.01M124.1 94.6h.01M128.1 87.0h.01M132.5 78.7h.01M126.8 89.9h.01M132.4 96.3h.01M132.7 89.5h.01M129.5 94.6h.01M128.3 90.5h.01M126.5 87.3h.01M123.9 97.0h.01M125.9 80.5h.01M127.7 88.9h.01M127.4 96.4h.01M126.7 87.9h.01M125.1 88.9h.01M125.9 89.8h.01M134.9 90.6h.01M124.8 96.9h.01M129.2 92.3h.01M128.8 92.3h.01M128.7 94.8h.01M129.5 94.5h.01M125.7 89.0h.01M125.2 92.9h.01M129.1 87.1h.01M128.5 99.7h.01M130.1 84.4h.01M126.8 91.6h.01M126.9 90.6h.01M130.0 90.3h.01M124.2 91.9h.01M126.8 89.5h.01M125.6 83.3h.01M123.8 87.6h.01M124.3 77.9h.01M129.9 84.2h.01M125.2 91.2h.01M120.9 94.5h.01M125.1 91.7h.01M125.8 90.3h.01M127.3 89.0h.01M122.4 83.0h.01M126.9 94.8h.01M125.6 91.2h.01M127.4 91.0h.01M129.5 82.9h.01M127.7 88.3h.01M126.2 85.5h.01M125.0 84.8h.01M124.2 99.3h.01M131.3 89.0h.01M128.9 85.0h.01M120.0 81.5h.01" stroke="#7f78d2" stroke-opacity="0.55" stroke-width="0.84" stroke-linecap="round" fill="none"/>
<path d="M134.4 96.2h.01M133.9 85.7h.01M133.3 85.7h.01M130.2 89.0h.01M132.9 86.5h.01M131.6 86.0h.01M134.6 96.0h.01M133.4 99.6h.01M129.6 91.2h.01M130.8 89.3h.01M134.3 92.4h.01M137.1 87.6h.01M130.6 89.2h.01M134.8 87.0h.01M136.4 97.2h.01M130.1 91.6h.01M136.8 81.8h.01M134.6 89.0h.01M130.1 95.6h.01M134.6 87.9h.01M135.2 92.8h.01M136.1 92.5h.01M135.1 85.0h.01M132.9 90.6h.01M126.4 99.1h.01M133.0 85.5h.01M129.0 91.1h.01M134.1 87.5h.01M132.9 86.2h.01M132.0 89.6h.01M132.2 92.9h.01M133.6 90.6h.01M135.1 95.5h.01M135.6 91.0h.01M133.6 86.5h.01M133.1 92.9h.01M134.6 88.3h.01M130.4 83.4h.01M134.9 94.4h.01M135.0 84.1h.01M133.4 91.0h.01M131.5 91.5h.01M133.5 86.4h.01M130.6 93.5h.01M135.0 86.2h.01M131.2 93.8h.01M135.6 88.7h.01M138.3 88.8h.01M131.1 94.7h.01M133.5 91.5h.01M134.1 85.7h.01M130.8 89.2h.01M137.8 85.7h.01M137.7 90.9h.01M131.0 91.1h.01M135.5 86.1h.01M128.2 91.5h.01M131.0 91.9h.01M128.8 89.4h.01M131.8 83.7h.01M133.3 90.7h.01M132.5 84.9h.01M134.6 82.5h.01M135.5 92.1h.01M138.6 93.8h.01M135.0 91.1h.01M134.1 84.3h.01M138.0 92.3h.01M133.2 85.1h.01M138.0 92.3h.01M130.8 92.9h.01M139.2 89.9h.01M135.1 88.2h.01M132.3 94.6h.01M142.4 90.5h.01M133.7 93.4h.01M133.2 93.1h.01M136.3 85.7h.01M131.1 89.7h.01M136.3 91.2h.01M137.4 84.1h.01M135.3 87.3h.01M134.3 91.4h.01M131.4 89.0h.01M130.8 91.1h.01M131.7 87.9h.01M134.6 87.2h.01M137.1 87.3h.01M136.3 91.2h.01M131.2 89.1h.01M131.7 88.5h.01M133.3 97.8h.01M132.9 96.7h.01M135.2 84.4h.01M127.7 92.9h.01M128.6 93.1h.01M136.8 91.7h.01M133.4 88.9h.01M134.7 88.7h.01M132.5 88.4h.01M137.2 87.4h.01M135.0 85.1h.01M132.1 84.1h.01M133.5 92.9h.01M134.8 87.9h.01M135.7 88.5h.01M135.0 91.2h.01M135.5 79.4h.01M130.5 93.3h.01M133.7 99.6h.01M133.4 87.7h.01M138.0 92.4h.01M139.1 92.2h.01M133.4 93.1h.01M131.9 88.1h.01M132.5 89.1h.01M136.1 88.0h.01M134.9 87.9h.01M136.4 78.3h.01M133.4 90.7h.01M131.1 94.3h.01M134.6 95.5h.01M136.6 92.7h.01M133.6 85.4h.01M133.4 88.0h.01M134.7 88.0h.01M142.3 83.2h.01M137.2 88.0h.01M133.3 93.9h.01M134.0 84.8h.01M135.1 89.2h.01M128.4 90.8h.01M131.1 86.8h.01M135.3 91.3h.01M133.2 99.2h.01M135.1 87.4h.01M134.6 89.5h.01M128.0 83.3h.01M130.2 98.8h.01M133.5 88.8h.01M132.5 94.2h.01M134.1 97.2h.01M136.1 97.0h.01M133.7 91.6h.01M132.8 89.3h.01M129.3 87.5h.01M131.4 87.2h.01M137.3 91.1h.01M137.3 93.6h.01M136.5 94.3h.01" stroke="#7f78d2" stroke-opacity="0.55" stroke-width="0.84" stroke-linecap="round" fill="none"/>
<path d="M142.9 85.7h.01M144.8 81.8h.01M155.1 87.9h.01M140.4 88.6h.01M152.6 79.9h.01M148.8 83.8h.01M149.5 81.7h.01M138.3 84.2h.01M152.8 84.4h.01M151.5 85.5h.01M140.3 83.7h.01M149.3 85.5h.01M148.1 84.3h.01M147.9 88.7h.01M132.3 84.8h.01M163.7 81.5h.01M134.6 85.0h.01M137.3 82.4h.01M148.5 87.5h.01M150.1 84.4h.01M153.9 82.7h.01M141.2 83.5h.01M149.3 81.9h.01M142.5 82.6h.01M136.9 81.5h.01M146.4 82.1h.01M147.3 86.8h.01M149.0 82.7h.01M139.1 81.0h.01M149.5 80.3h.01M149.9 79.7h.01M147.9 82.7h.01M153.7 81.1h.01M144.5 84.0h.01M147.4 87.6h.01M145.3 81.7h.01M144.8 84.6h.01M148.6 84.7h.01M137.7 91.0h.01M159.4 81.3h.01M138.9 84.5h.01M149.8 76.5h.01M147.1 78.9h.01M150.1 86.4h.01M154.0 78.0h.01M156.3 84.3h.01M144.6 84.7h.01M157.2 80.8h.01M146.9 81.5h.01M154.8 76.1h.01M156.6 79.1h.01M153.2 77.7h.01M140.7 82.2h.01M152.6 77.8h.01M151.1 80.7h.01M155.4 81.1h.01M150.3 82.1h.01M159.1 80.5h.01M146.8 88.5h.01M147.5 84.8h.01" stroke="#b7b3e8" stroke-opacity="0.45" stroke-width="0.8" stroke-linecap="round" fill="none"/>
<rect x="50.20" y="143.30" width="51.60" height="50.30" fill="#fff" stroke="#b8b8b8" stroke-width="0.7"/>
<line x1="78.6" y1="143.3" x2="78.6" y2="193.6" stroke="#777" stroke-width="0.8"/>
<line x1="50.2" y1="172.7" x2="101.8" y2="172.7" stroke="#777" stroke-width="0.8"/>
<path d="M52.2 193.6v1M64.1 193.6v1M76.0 193.6v1M87.9 193.6v1M99.8 193.6v1M50.2 145.3h-1M50.2 156.9h-1M50.2 168.4h-1M50.2 180.0h-1M50.2 191.6h-1" stroke="#999" stroke-width="0.5" fill="none"/>
<path d="M58.2 182.0h.01M53.5 181.5h.01M58.5 173.8h.01M56.1 186.5h.01M61.8 173.7h.01M66.1 177.7h.01M59.4 182.2h.01M57.0 173.2h.01M58.2 186.7h.01M63.4 173.4h.01M64.2 181.2h.01M62.0 181.2h.01M61.8 176.2h.01M57.7 177.6h.01M59.4 184.0h.01M56.8 188.7h.01M58.6 178.2h.01M62.7 183.1h.01M59.5 175.9h.01M57.4 173.3h.01M64.0 186.2h.01M66.3 183.4h.01M61.5 184.6h.01M63.4 179.8h.01M61.6 191.4h.01M55.3 174.2h.01M57.5 184.6h.01M64.2 179.4h.01M62.6 180.8h.01M61.4 178.4h.01M60.4 181.0h.01M64.0 191.7h.01M54.9 183.6h.01M60.5 185.7h.01M63.8 184.8h.01M63.0 176.4h.01M55.2 189.0h.01M64.2 176.4h.01M64.5 184.2h.01M52.9 185.3h.01M57.5 186.6h.01M58.4 177.4h.01M55.7 180.0h.01M63.6 177.8h.01M54.8 191.3h.01M66.2 184.3h.01M58.8 175.2h.01M55.4 183.7h.01M64.5 175.9h.01M60.5 179.7h.01M59.7 183.4h.01M67.0 177.9h.01M63.1 186.2h.01M59.6 180.3h.01M56.4 186.2h.01M58.9 177.8h.01M60.7 176.9h.01M57.3 179.6h.01M65.1 180.0h.01M62.1 173.9h.01M54.5 189.8h.01M59.3 173.6h.01M60.2 183.9h.01M55.2 176.7h.01M61.3 176.6h.01M63.0 185.6h.01M61.9 178.9h.01M60.4 177.9h.01M60.1 182.5h.01M59.6 185.7h.01M68.5 178.4h.01M61.6 185.0h.01M62.5 179.9h.01M59.0 185.8h.01M62.4 183.4h.01M58.0 184.0h.01M63.0 180.1h.01M62.5 191.5h.01M54.7 183.9h.01M56.9 174.4h.01" stroke="#555" stroke-opacity="0.35" stroke-width="0.8" stroke-linecap="round" fill="none"/>
<ellipse cx="60.5" cy="185" rx="4.6" ry="3" fill="#000" fill-opacity="1" filter="url(#b1)"/>
<ellipse cx="60.5" cy="185" rx="3.5" ry="2.2" fill="#000" fill-opacity="1" filter="url(#b05)"/>
<text x="53.2" y="152.5" font-size="9.5">A<tspan font-size="6" dy="-3.3">+</tspan><tspan dy="3.3">7</tspan><tspan font-size="6" dy="-3.3">-</tspan></text>
<text x="80.9" y="152.5" font-size="9.5">A<tspan font-size="6" dy="-3.3">+</tspan><tspan dy="3.3">7</tspan><tspan font-size="6" dy="-3.3">+</tspan></text>
<rect x="112.90" y="143.10" width="51.30" height="50.10" fill="#fff" stroke="#b8b8b8" stroke-width="0.7"/>
<line x1="141" y1="143.1" x2="141" y2="193.2" stroke="#777" stroke-width="0.8"/>
<line x1="112.9" y1="172.3" x2="164.2" y2="172.3" stroke="#777" stroke-width="0.8"/>
<path d="M114.9 193.2v1M126.7 193.2v1M138.6 193.2v1M150.4 193.2v1M162.2 193.2v1M112.9 145.1h-1M112.9 156.6h-1M112.9 168.1h-1M112.9 179.7h-1M112.9 191.2h-1" stroke="#999" stroke-width="0.5" fill="none"/>
<path d="M121.9 184.2h.01M122.6 177.3h.01M119.0 179.7h.01M122.5 178.6h.01M118.9 189.1h.01M120.5 181.4h.01M121.2 179.6h.01M122.6 180.8h.01M124.0 177.2h.01M118.9 189.9h.01M122.3 185.1h.01M125.4 184.3h.01M122.6 175.7h.01M118.6 186.0h.01M124.1 184.3h.01M118.5 173.3h.01M119.9 177.2h.01M122.9 177.8h.01M126.3 179.5h.01M121.1 185.5h.01M123.3 178.3h.01M124.5 189.8h.01M119.5 181.0h.01M119.9 174.1h.01M124.0 184.8h.01M124.9 183.7h.01M117.6 181.9h.01M120.9 177.2h.01M119.8 185.1h.01M121.8 190.0h.01M123.6 174.2h.01M124.7 187.1h.01M122.6 177.1h.01M126.8 176.6h.01M122.3 174.2h.01M119.5 175.1h.01M125.1 186.8h.01M121.5 176.5h.01M122.4 183.5h.01M118.8 177.3h.01M122.3 184.9h.01M122.7 183.8h.01M119.5 171.8h.01M123.3 178.2h.01M122.2 180.5h.01M123.7 178.8h.01M126.0 182.1h.01M123.8 184.6h.01M125.0 183.7h.01M118.2 179.4h.01M127.0 183.9h.01M123.9 183.9h.01M120.9 179.2h.01M120.9 186.8h.01M123.4 189.3h.01M123.7 189.8h.01M123.6 177.1h.01M126.8 183.4h.01M125.4 182.9h.01M121.7 182.7h.01M119.8 177.1h.01M120.3 179.8h.01M119.2 181.6h.01M123.2 190.4h.01M127.0 181.8h.01M124.7 181.1h.01M123.5 181.9h.01M121.2 182.3h.01M118.9 183.8h.01M121.8 177.5h.01M121.6 184.3h.01M120.8 184.0h.01M123.9 188.4h.01M119.8 181.5h.01M123.8 188.2h.01M123.1 185.1h.01M118.9 179.6h.01M126.6 180.8h.01M127.8 179.0h.01M121.8 175.4h.01M124.1 183.1h.01M127.5 182.7h.01M121.9 176.2h.01M122.3 185.9h.01M124.3 187.1h.01M124.6 181.8h.01M124.0 182.7h.01M119.2 189.1h.01M123.4 177.6h.01M123.5 183.2h.01M125.0 188.0h.01M115.0 184.3h.01M126.3 178.1h.01M117.9 183.2h.01M123.3 183.5h.01M119.8 180.1h.01M123.0 185.1h.01M127.9 183.2h.01M121.0 172.2h.01M125.2 181.5h.01M122.2 177.9h.01M124.3 174.5h.01M122.8 182.5h.01M123.2 187.4h.01M122.3 182.4h.01M124.6 175.5h.01M121.8 182.3h.01M124.9 178.7h.01M124.5 183.6h.01M118.8 175.8h.01M118.9 182.6h.01M123.0 185.0h.01M124.5 179.7h.01M125.2 185.4h.01M123.7 184.0h.01M119.3 183.5h.01M119.9 177.0h.01M121.6 182.6h.01M122.4 180.6h.01M120.0 182.8h.01M120.7 176.1h.01M122.7 188.1h.01M121.5 177.6h.01M125.9 189.2h.01M121.8 181.1h.01M122.8 186.2h.01M123.6 174.4h.01M119.8 176.8h.01M123.6 182.4h.01M127.0 180.9h.01M123.3 182.3h.01M122.8 191.7h.01M123.2 188.2h.01M125.7 179.5h.01M124.2 180.4h.01M122.8 182.7h.01M122.6 180.0h.01M126.4 180.9h.01M124.3 189.0h.01M124.1 186.3h.01M126.0 186.6h.01M126.8 176.0h.01M127.4 182.1h.01M118.1 179.3h.01M119.0 181.9h.01M118.8 177.8h.01M123.2 182.7h.01M120.5 181.0h.01M122.3 182.3h.01M122.5 181.1h.01M124.7 175.3h.01M121.3 182.6h.01M121.5 179.7h.01M121.4 182.9h.01M125.6 181.2h.01M121.8 183.5h.01M121.9 173.9h.01M123.2 180.4h.01M121.1 184.6h.01M122.6 179.6h.01M117.1 174.8h.01M122.5 181.5h.01M123.6 182.9h.01M121.3 176.7h.01M119.8 181.4h.01M119.6 185.2h.01M119.2 174.5h.01M122.0 174.5h.01M126.6 177.8h.01M122.4 181.0h.01M120.5 174.6h.01M117.8 185.6h.01M125.1 191.1h.01M118.8 184.4h.01M122.5 185.6h.01M121.2 185.0h.01M124.7 184.5h.01M126.1 181.3h.01M126.4 179.1h.01M126.7 170.5h.01M122.5 178.6h.01M122.5 186.3h.01M124.3 182.4h.01M126.8 175.8h.01M120.5 188.3h.01M123.3 173.3h.01M123.4 177.0h.01M126.2 186.8h.01M121.1 187.4h.01M120.4 185.9h.01M123.9 181.5h.01M118.9 180.8h.01M116.8 179.6h.01M117.9 187.1h.01M120.1 171.8h.01M124.0 183.5h.01M121.2 190.9h.01M124.4 182.3h.01M120.9 169.6h.01M123.7 186.0h.01M121.0 176.1h.01M122.4 175.0h.01M122.5 185.2h.01M126.3 183.1h.01M123.0 185.1h.01M126.0 180.7h.01M119.4 178.7h.01M119.4 178.3h.01M122.2 183.4h.01M122.9 182.3h.01M121.6 183.8h.01M124.7 185.2h.01M126.2 180.8h.01M121.9 189.1h.01M123.0 183.7h.01M121.7 186.1h.01M121.5 177.8h.01M122.3 180.1h.01M124.6 180.4h.01M122.8 181.1h.01M123.4 179.4h.01M125.3 176.0h.01M121.5 179.0h.01M124.1 182.2h.01M123.7 180.6h.01M120.7 177.3h.01M121.7 179.8h.01M123.2 183.5h.01M124.9 181.6h.01M120.6 177.5h.01M122.7 183.5h.01M127.4 182.8h.01M126.9 189.9h.01M119.9 187.1h.01M125.3 187.7h.01M122.5 186.0h.01M121.3 181.7h.01M122.5 189.5h.01M122.0 186.0h.01" stroke="#333" stroke-opacity="0.36" stroke-width="0.84" stroke-linecap="round" fill="none"/>
<ellipse cx="122.5" cy="182.5" rx="3.2" ry="4.4" fill="#666" fill-opacity="0.5" filter="url(#b1)"/>
<path d="M134.6 162.4h.01M136.2 165.8h.01M127.6 170.6h.01M127.6 165.9h.01M136.0 163.1h.01M125.2 164.9h.01M134.2 165.6h.01M129.9 167.9h.01M120.3 174.0h.01M137.7 163.8h.01M128.5 168.4h.01M135.2 167.7h.01M136.5 164.4h.01M127.5 171.4h.01M144.6 157.5h.01M139.7 162.7h.01M133.6 161.2h.01M149.8 150.1h.01M136.7 162.3h.01M144.3 157.8h.01M134.4 166.7h.01M138.1 161.0h.01M140.1 162.8h.01M142.9 158.4h.01M133.6 164.0h.01M126.5 170.1h.01M137.7 167.4h.01M131.1 167.9h.01M144.3 158.8h.01M134.6 165.1h.01M127.8 165.4h.01M144.0 159.9h.01M133.3 161.5h.01M135.1 168.1h.01M123.7 168.0h.01M144.0 163.9h.01M147.9 155.4h.01M139.4 159.6h.01M138.7 161.2h.01M135.8 168.2h.01M137.0 162.5h.01M134.5 165.6h.01M129.4 168.3h.01M139.4 166.9h.01M115.5 171.7h.01" stroke="#888" stroke-opacity="0.35" stroke-width="0.8" stroke-linecap="round" fill="none"/>
<rect x="50.40" y="199.50" width="51.00" height="49.10" fill="#fff" stroke="#b8b8b8" stroke-width="0.7"/>
<line x1="78.3" y1="199.5" x2="78.3" y2="248.6" stroke="#777" stroke-width="0.8"/>
<line x1="50.4" y1="229" x2="101.4" y2="229" stroke="#777" stroke-width="0.8"/>
<path d="M52.4 248.6v1M64.2 248.6v1M75.9 248.6v1M87.7 248.6v1M99.4 248.6v1M50.4 201.5h-1M50.4 212.8h-1M50.4 224.1h-1M50.4 235.3h-1M50.4 246.6h-1" stroke="#999" stroke-width="0.5" fill="none"/>
<path d="M56.3 241.4h.01M68.8 238.0h.01M60.9 242.7h.01M52.2 236.1h.01M58.8 234.6h.01M61.6 234.1h.01M64.3 237.0h.01M59.0 241.6h.01M57.7 243.2h.01M63.8 237.7h.01M63.8 245.0h.01M65.2 237.0h.01M60.3 242.5h.01M55.5 234.0h.01M62.1 239.8h.01M66.8 245.7h.01M61.6 239.2h.01M56.1 236.1h.01M61.4 235.9h.01M60.7 240.0h.01M57.3 234.2h.01M54.5 242.7h.01M56.9 228.6h.01M63.1 235.9h.01M63.8 235.2h.01M67.7 240.5h.01M61.0 237.6h.01M59.8 241.0h.01M67.2 234.9h.01M56.8 240.0h.01M64.1 229.6h.01M58.2 232.1h.01M62.4 239.5h.01M58.0 231.4h.01M62.8 226.8h.01M62.7 236.2h.01M66.9 241.9h.01M58.6 235.6h.01M59.6 233.4h.01M60.8 241.8h.01M55.4 235.9h.01M65.5 240.7h.01M57.8 233.0h.01M57.6 229.1h.01M64.4 237.3h.01M58.2 229.9h.01M59.2 234.5h.01M66.3 234.7h.01M60.9 242.3h.01M62.7 236.1h.01M53.2 243.9h.01M62.5 234.9h.01M60.2 232.3h.01M57.5 229.7h.01M62.2 239.5h.01M61.1 240.8h.01M62.3 237.6h.01M57.5 239.9h.01M64.5 240.1h.01M64.7 234.7h.01M57.2 243.1h.01M58.6 238.2h.01M59.9 237.1h.01M59.6 234.4h.01M54.5 246.4h.01M61.2 227.6h.01M57.5 231.5h.01M58.0 224.5h.01M62.4 245.0h.01M59.7 240.6h.01M62.5 230.9h.01M64.6 228.7h.01M58.6 235.2h.01M64.7 237.6h.01M60.1 233.1h.01M60.8 237.2h.01M62.9 243.8h.01M63.0 237.1h.01M60.0 244.8h.01M61.2 236.9h.01M66.5 244.7h.01M62.4 236.5h.01M58.4 242.2h.01M59.0 241.7h.01M57.9 237.5h.01M61.8 237.7h.01M61.3 238.9h.01M56.8 231.6h.01M60.0 245.8h.01M60.1 232.5h.01M58.3 237.2h.01M64.4 234.2h.01M62.4 237.9h.01M59.3 232.4h.01M60.0 233.5h.01M62.3 228.4h.01M64.2 240.7h.01M62.4 244.3h.01M62.5 228.7h.01M60.7 239.2h.01M58.2 231.5h.01M61.9 239.5h.01M59.1 235.8h.01M58.8 234.2h.01M60.3 242.2h.01M55.2 235.3h.01M65.9 238.5h.01M61.0 241.1h.01" stroke="#555" stroke-opacity="0.35" stroke-width="0.8" stroke-linecap="round" fill="none"/>
<ellipse cx="60.5" cy="240.5" rx="5.2" ry="3.6" fill="#000" fill-opacity="1" filter="url(#b1)"/>
<ellipse cx="60.5" cy="240.8" rx="4" ry="2.6" fill="#000" fill-opacity="1" filter="url(#b05)"/>
<path d="M83.6 210.6h.01M82.7 210.2h.01M85.3 214.7h.01M84.4 211.7h.01M85.6 214.2h.01M85.4 209.3h.01M84.3 208.1h.01M85.3 211.3h.01M84.1 215.9h.01M86.8 213.9h.01M85.4 213.3h.01M84.2 212.9h.01M87.6 211.3h.01M84.1 213.3h.01M86.2 214.6h.01M83.7 212.7h.01M84.6 210.6h.01M85.1 212.1h.01M86.3 213.8h.01M83.9 213.2h.01M84.5 211.8h.01M84.3 215.1h.01M84.4 209.7h.01M83.9 214.6h.01M87.9 211.0h.01" stroke="#888" stroke-opacity="0.4" stroke-width="0.8" stroke-linecap="round" fill="none"/>
<rect x="113.00" y="199.50" width="50.80" height="49.10" fill="#fff" stroke="#b8b8b8" stroke-width="0.7"/>
<line x1="141.2" y1="199.5" x2="141.2" y2="248.6" stroke="#777" stroke-width="0.8"/>
<line x1="113" y1="229" x2="163.8" y2="229" stroke="#777" stroke-width="0.8"/>
<path d="M115.0 248.6v1M126.7 248.6v1M138.4 248.6v1M150.1 248.6v1M161.8 248.6v1M113 201.5h-1M113 212.8h-1M113 224.1h-1M113 235.3h-1M113 246.6h-1" stroke="#999" stroke-width="0.5" fill="none"/>
<path d="M122.1 237.7h.01M119.6 240.6h.01M122.9 240.1h.01M128.4 237.9h.01M124.9 242.4h.01M121.5 236.6h.01M126.8 241.9h.01M123.3 234.5h.01M125.1 241.2h.01M128.3 245.0h.01M125.0 240.1h.01M123.2 236.8h.01M123.8 240.0h.01M124.6 243.4h.01M123.8 236.8h.01M125.0 245.3h.01M121.0 240.7h.01M124.3 241.2h.01M124.2 238.6h.01M122.8 245.9h.01M127.2 233.3h.01M116.8 240.8h.01M121.4 236.9h.01M119.1 240.4h.01M122.9 236.8h.01M126.6 243.8h.01M122.0 241.7h.01M122.9 243.7h.01M124.4 238.9h.01M124.3 236.1h.01M124.9 245.1h.01M122.1 241.3h.01M119.0 242.8h.01M125.1 234.8h.01M127.2 239.5h.01M118.8 233.4h.01M125.1 237.9h.01M125.7 232.7h.01M122.8 243.0h.01M121.4 241.8h.01M122.1 240.4h.01M120.0 242.2h.01M126.2 234.4h.01M125.6 226.9h.01M122.4 232.0h.01M123.7 236.0h.01M121.6 235.6h.01M123.7 237.1h.01M120.8 238.1h.01M124.0 235.5h.01M125.7 232.2h.01M124.0 237.4h.01M126.8 236.4h.01M121.4 233.5h.01M127.8 241.5h.01M120.4 237.6h.01M120.7 245.2h.01M124.0 230.7h.01M123.5 242.7h.01M123.0 240.9h.01M122.7 239.9h.01M123.5 236.1h.01M123.8 239.7h.01M122.9 236.2h.01M120.5 240.0h.01M125.0 229.1h.01M121.7 244.5h.01M125.2 236.1h.01M126.3 235.0h.01M121.1 246.9h.01M121.9 238.1h.01M119.0 234.9h.01M120.1 238.4h.01M118.5 243.3h.01M122.1 236.5h.01M121.5 242.0h.01M126.7 237.3h.01M126.9 245.6h.01M126.3 240.2h.01M119.4 241.8h.01M122.0 239.8h.01M118.4 237.8h.01M123.6 235.2h.01M123.7 245.8h.01M123.6 236.2h.01M128.8 230.2h.01M120.8 240.7h.01M121.6 229.6h.01M123.6 242.4h.01M121.1 245.0h.01M124.2 243.9h.01M119.3 239.0h.01M126.9 247.2h.01M126.2 239.0h.01M123.4 236.4h.01M125.7 236.2h.01M123.3 230.6h.01M119.3 246.3h.01M123.1 239.9h.01M117.7 238.9h.01M128.0 232.9h.01M117.2 238.3h.01M121.7 238.1h.01M119.9 233.4h.01M120.0 241.6h.01M122.9 242.4h.01M120.4 241.4h.01M121.9 239.4h.01M125.3 239.1h.01M122.1 232.2h.01M123.2 242.2h.01M121.5 238.7h.01M118.7 233.5h.01M124.0 244.3h.01M122.2 232.1h.01M122.1 232.6h.01M122.3 246.9h.01M123.7 238.4h.01M125.5 237.4h.01M123.8 239.8h.01M124.1 233.0h.01M124.7 242.6h.01M117.4 227.8h.01M120.8 245.1h.01M123.1 241.8h.01M124.4 242.7h.01M121.4 236.6h.01M123.9 241.5h.01M124.4 240.4h.01M121.8 243.6h.01M124.2 243.4h.01M116.8 243.2h.01M117.0 239.9h.01M121.4 239.5h.01M121.8 237.7h.01M123.5 240.4h.01M121.0 228.5h.01M121.1 241.2h.01M120.9 240.8h.01M122.1 235.1h.01M125.9 245.9h.01M122.7 238.8h.01M125.4 233.5h.01M120.8 243.7h.01M125.2 237.0h.01M121.1 240.5h.01M119.5 236.9h.01M122.4 228.8h.01M124.5 242.2h.01M125.6 233.0h.01M119.8 235.6h.01M119.8 247.5h.01M120.6 237.7h.01M123.5 240.9h.01M126.6 234.5h.01M125.2 239.6h.01M120.1 239.6h.01M119.5 245.7h.01M121.2 243.2h.01M126.2 236.4h.01M120.8 239.5h.01M120.4 242.7h.01M123.4 235.8h.01M121.3 242.0h.01M119.4 246.0h.01M121.1 238.2h.01M120.7 245.8h.01M125.0 244.4h.01M124.6 239.4h.01M127.2 241.8h.01M124.1 241.4h.01M124.8 240.2h.01M122.6 232.3h.01M128.1 233.6h.01M117.6 236.0h.01M127.8 244.1h.01M121.5 240.1h.01M122.9 230.7h.01M122.2 240.2h.01M125.9 234.0h.01M117.4 232.4h.01M123.8 239.3h.01M123.4 239.6h.01M122.1 233.3h.01M124.1 240.6h.01M124.4 244.2h.01M119.9 229.2h.01M118.5 248.0h.01M120.7 240.7h.01M123.0 242.1h.01M131.0 236.8h.01M122.6 236.5h.01M123.6 241.2h.01M120.6 244.5h.01M125.9 240.9h.01M122.7 238.0h.01M118.9 241.8h.01M120.6 236.9h.01M125.5 235.1h.01M121.7 242.6h.01M127.6 236.1h.01M125.8 236.3h.01M124.0 241.0h.01M120.2 243.3h.01M127.5 239.2h.01M123.7 234.1h.01M127.5 239.3h.01M119.8 242.2h.01M119.3 236.1h.01M117.7 244.8h.01M128.5 236.3h.01M121.4 236.6h.01M121.6 241.3h.01M126.6 234.8h.01M124.1 231.4h.01M126.8 238.6h.01M121.2 245.4h.01M122.7 244.8h.01M125.7 246.0h.01M121.0 239.2h.01M123.9 238.2h.01M126.8 236.0h.01M125.5 244.7h.01M118.1 234.9h.01M120.7 236.7h.01M124.0 238.3h.01M123.2 237.1h.01M122.8 241.0h.01M124.9 235.7h.01M122.7 235.8h.01M122.6 233.0h.01M125.4 241.8h.01M122.7 236.1h.01M121.9 236.2h.01M119.1 245.9h.01M131.2 233.8h.01M120.1 241.4h.01M124.5 232.4h.01M118.2 241.3h.01M118.0 245.0h.01M121.8 239.4h.01M123.0 236.7h.01M122.6 237.7h.01M126.1 238.6h.01M122.9 236.8h.01M121.4 235.9h.01M123.0 246.7h.01M125.8 240.0h.01M127.2 243.3h.01M123.5 238.3h.01M120.3 240.0h.01M122.2 232.3h.01M119.8 247.1h.01M123.5 241.1h.01M123.5 237.0h.01M124.2 243.6h.01M122.2 241.2h.01M125.6 237.0h.01M123.4 235.9h.01M124.5 237.5h.01M125.9 235.8h.01M127.2 237.7h.01M120.9 235.2h.01M124.7 235.4h.01M127.5 244.4h.01M124.3 233.0h.01M122.9 235.9h.01M118.5 240.8h.01M128.5 236.7h.01M125.0 244.4h.01M120.6 237.6h.01M123.7 241.0h.01M120.1 239.9h.01M122.7 243.0h.01M119.0 236.6h.01M121.7 237.7h.01M124.8 236.4h.01" stroke="#222" stroke-opacity="0.4" stroke-width="0.84" stroke-linecap="round" fill="none"/>
<ellipse cx="123" cy="239.5" rx="3.2" ry="4.4" fill="#555" fill-opacity="0.5" filter="url(#b1)"/>
<path d="M154.9 203.8h.01M139.7 218.9h.01M140.7 214.4h.01M126.4 223.4h.01M138.3 217.0h.01M137.7 218.8h.01M125.9 221.6h.01M144.5 211.1h.01M120.3 234.0h.01M126.3 221.3h.01M140.7 211.5h.01M126.0 227.8h.01M126.4 232.1h.01M133.8 228.0h.01M134.0 219.5h.01M127.9 222.6h.01M129.0 222.5h.01M139.2 212.0h.01M125.7 218.1h.01M145.0 212.1h.01M132.9 219.9h.01M141.0 215.9h.01M139.8 215.1h.01M132.0 220.4h.01M118.1 232.9h.01M120.4 224.9h.01M138.4 216.8h.01M139.5 221.2h.01M147.9 214.9h.01M131.2 227.6h.01M126.0 224.2h.01M141.0 214.2h.01M132.0 219.5h.01M143.9 205.2h.01M143.2 216.9h.01M132.4 222.1h.01M125.3 228.4h.01M157.5 201.5h.01M144.2 212.7h.01M130.3 220.2h.01" stroke="#999" stroke-opacity="0.35" stroke-width="0.8" stroke-linecap="round" fill="none"/>
<path d="M146.0 211.9h.01M144.1 216.9h.01M146.3 214.3h.01M146.8 213.9h.01M143.9 213.4h.01M147.3 214.4h.01M144.5 213.6h.01M144.6 215.3h.01M146.9 213.3h.01M145.3 214.5h.01M146.4 212.4h.01M146.8 212.3h.01M147.8 213.6h.01M145.2 214.9h.01M146.4 212.5h.01M144.8 211.9h.01M144.5 214.9h.01M148.2 211.7h.01M146.6 213.8h.01M147.5 213.5h.01M148.3 213.6h.01M145.1 214.7h.01M142.6 215.1h.01M146.3 214.3h.01M145.8 214.9h.01M148.4 211.3h.01M145.4 214.3h.01M147.1 213.3h.01M147.6 211.2h.01M147.5 214.5h.01M148.1 213.2h.01M145.9 214.2h.01M146.2 211.4h.01M145.3 213.9h.01M145.5 212.6h.01" stroke="#666" stroke-opacity="0.5" stroke-width="0.8" stroke-linecap="round" fill="none"/>
<rect x="50.7" y="61.2" width="1" height="1.6" fill="#222"/>
<rect x="112.7" y="61.1" width="1" height="1.8" fill="#222"/>
<rect x="50.8" y="116.5" width="1" height="1.6" fill="#222"/>
<rect x="112.8" y="116.0" width="1" height="2" fill="#222"/>
<rect x="58.0" y="193.4" width="3.6" height="1.1" fill="#222"/>
<rect x="49.2" y="186.8" width="1.2" height="1.5" fill="#222"/>
<rect x="121.0" y="193.2" width="3.2" height="1.1" fill="#222"/>
<rect x="111.9" y="186.6" width="1.2" height="1.6" fill="#222"/>
<rect x="58.2" y="248.6" width="3.6" height="1.1" fill="#222"/>
<rect x="49.4" y="242.2" width="1.2" height="1.5" fill="#222"/>
<rect x="121.4" y="248.6" width="3.2" height="1.1" fill="#222"/>
<rect x="112.0" y="242.2" width="1.2" height="1.6" fill="#222"/>
<rect x="293.5" y="347.8" width="4" height="1.1" fill="#444"/>
<rect x="284.2" y="339.2" width="1.1" height="1.5" fill="#444"/>
<rect x="284.2" y="343.9" width="1.1" height="1.2" fill="#555"/>
<rect x="293.5" y="402.8" width="4" height="1.1" fill="#444"/>
<rect x="284.2" y="394.2" width="1.1" height="1.5" fill="#444"/>
<rect x="284.2" y="398.9" width="1.1" height="1.2" fill="#555"/>
<path d="M220.5 9.4V112H277.7" stroke="#000" fill="none" stroke-width="1.2"/>
<line x1="218.6" y1="20" x2="221.2" y2="20" stroke="#000" stroke-width="1"/>
<text x="217.9" y="23.2" font-size="10" text-anchor="end">100</text>
<line x1="218.6" y1="44.2" x2="221.2" y2="44.2" stroke="#000" stroke-width="1"/>
<text x="217.9" y="47.400000000000006" font-size="10" text-anchor="end">75</text>
<line x1="218.6" y1="66.3" x2="221.2" y2="66.3" stroke="#000" stroke-width="1"/>
<text x="217.9" y="69.5" font-size="10" text-anchor="end">50</text>
<line x1="218.6" y1="88.7" x2="221.2" y2="88.7" stroke="#000" stroke-width="1"/>
<text x="217.9" y="91.9" font-size="10" text-anchor="end">25</text>
<text x="201.7" y="56.8" font-size="9.8" text-anchor="middle" transform="rotate(-90 201.7 56.8)">Percent</text>
<path d="M282.5 9.4V112H340.6" stroke="#000" fill="none" stroke-width="1.2"/>
<path d="M347.7 9.4V112H405" stroke="#000" fill="none" stroke-width="1.2"/>
<path d="M411.6 9.4V112H468.8" stroke="#000" fill="none" stroke-width="1.2"/>
<rect x="234.60" y="57.40" width="12.00" height="54.60" fill="#fff" stroke="#000" stroke-width="1.1"/>
<line x1="240.6" y1="57.4" x2="240.6" y2="46.5" stroke="#000" stroke-width="1.1"/>
<line x1="236.1" y1="46.5" x2="245.1" y2="46.5" stroke="#000" stroke-width="1.1"/>
<rect x="246.60" y="49.50" width="12.60" height="62.50" fill="#13a552" stroke="#000" stroke-width="1.1"/>
<line x1="252.89999999999998" y1="49.5" x2="252.89999999999998" y2="31.8" stroke="#000" stroke-width="1.1"/>
<line x1="247.99999999999997" y1="31.8" x2="257.79999999999995" y2="31.8" stroke="#000" stroke-width="1.1"/>
<text x="254.2" y="29" font-size="9" text-anchor="middle">NS</text>
<rect x="297.20" y="72.50" width="12.30" height="39.50" fill="#fff" stroke="#000" stroke-width="1.1"/>
<line x1="303.35" y1="72.5" x2="303.35" y2="68.2" stroke="#000" stroke-width="1.1"/>
<line x1="298.75" y1="68.2" x2="307.95000000000005" y2="68.2" stroke="#000" stroke-width="1.1"/>
<rect x="309.50" y="60.30" width="13.30" height="51.70" fill="#13a552" stroke="#000" stroke-width="1.1"/>
<line x1="316.15" y1="60.3" x2="316.15" y2="49.2" stroke="#000" stroke-width="1.1"/>
<line x1="311.34999999999997" y1="49.2" x2="320.95" y2="49.2" stroke="#000" stroke-width="1.1"/>
<text x="317.2" y="46.4" font-size="9" text-anchor="middle">NS</text>
<rect x="361.20" y="59.20" width="12.80" height="52.80" fill="#fff" stroke="#000" stroke-width="1.1"/>
<line x1="367.6" y1="59.2" x2="367.6" y2="55.5" stroke="#000" stroke-width="1.1"/>
<line x1="362.90000000000003" y1="55.5" x2="372.3" y2="55.5" stroke="#000" stroke-width="1.1"/>
<rect x="374.00" y="48.50" width="12.60" height="63.50" fill="#13a552" stroke="#000" stroke-width="1.1"/>
<line x1="380.3" y1="48.5" x2="380.3" y2="39.5" stroke="#000" stroke-width="1.1"/>
<line x1="375.6" y1="39.5" x2="385.0" y2="39.5" stroke="#000" stroke-width="1.1"/>
<text x="381.3" y="37.3" font-size="9" text-anchor="middle">NS</text>
<rect x="426.40" y="47.60" width="12.80" height="64.40" fill="#fff" stroke="#000" stroke-width="1.1"/>
<line x1="432.79999999999995" y1="47.6" x2="432.79999999999995" y2="43.6" stroke="#000" stroke-width="1.1"/>
<line x1="427.99999999999994" y1="43.6" x2="437.59999999999997" y2="43.6" stroke="#000" stroke-width="1.1"/>
<rect x="439.20" y="36.30" width="12.80" height="75.70" fill="#13a552" stroke="#000" stroke-width="1.1"/>
<line x1="445.6" y1="36.3" x2="445.6" y2="29.6" stroke="#000" stroke-width="1.1"/>
<line x1="440.5" y1="29.6" x2="450.70000000000005" y2="29.6" stroke="#000" stroke-width="1.1"/>
<text x="445.5" y="30.50" font-size="8.5" font-weight="bold" text-anchor="middle" style="stroke-width:0">*</text>
<text x="249.6" y="8.8" font-size="10" text-anchor="middle">preproB</text>
<text x="310.8" y="8.8" font-size="9.8" text-anchor="middle">proB</text>
<text x="378.5" y="8.8" font-size="10" text-anchor="middle">early preB</text>
<text x="438" y="8.8" font-size="9.8" text-anchor="middle">preB</text>
<text x="247.5" y="122.3" font-size="9.8" text-anchor="middle">SG2M</text>
<text x="311" y="122.3" font-size="9.8" text-anchor="middle">SG2M</text>
<text x="375.3" y="122.3" font-size="9.8" text-anchor="middle">SG2M</text>
<text x="439.8" y="122.3" font-size="9.8" text-anchor="middle">SG2M</text>
<rect x="458.00" y="21.00" width="9.40" height="9.80" fill="#fff" stroke="#000" stroke-width="1.5"/>
<rect x="458.00" y="36.70" width="9.40" height="9.30" fill="#13a552" stroke="#000" stroke-width="1.5"/>
<text x="473.6" y="28.3" font-size="10.2" text-anchor="start">αEnh(f/f)</text>
<text x="472.4" y="45" font-size="10.1" text-anchor="start">ff;Mx1-Cre</text>
<path d="M220.5 140.3V248.5H276.5" stroke="#000" fill="none" stroke-width="1.2"/>
<line x1="218.7" y1="144" x2="222.3" y2="144" stroke="#000" stroke-width="1"/>
<text x="217.7" y="147.2" font-size="10" text-anchor="end">50</text>
<line x1="218.7" y1="164.6" x2="222.3" y2="164.6" stroke="#000" stroke-width="1"/>
<text x="217.7" y="167.79999999999998" font-size="10" text-anchor="end">40</text>
<line x1="218.7" y1="185" x2="222.3" y2="185" stroke="#000" stroke-width="1"/>
<text x="217.7" y="188.2" font-size="10" text-anchor="end">30</text>
<line x1="218.7" y1="205.5" x2="222.3" y2="205.5" stroke="#000" stroke-width="1"/>
<text x="217.7" y="208.7" font-size="10" text-anchor="end">20</text>
<line x1="218.7" y1="225.2" x2="222.3" y2="225.2" stroke="#000" stroke-width="1"/>
<text x="217.7" y="228.39999999999998" font-size="10" text-anchor="end">10</text>
<text x="201.9" y="192" font-size="9.8" text-anchor="middle" transform="rotate(-90 201.9 192)">Percent</text>
<path d="M282.3 140.8V248.5H337.5" stroke="#000" fill="none" stroke-width="1.2"/>
<path d="M347.3 140.8V248.5H402.5" stroke="#000" fill="none" stroke-width="1.2"/>
<path d="M411 140.8V248.5H468.8" stroke="#000" fill="none" stroke-width="1.2"/>
<rect x="229.50" y="245.00" width="7.70" height="3.50" fill="#fff" stroke="#000" stroke-width="1.1"/>
<rect x="237.20" y="243.60" width="9.30" height="4.90" fill="#13a552" stroke="#000" stroke-width="1.1"/>
<line x1="241.85" y1="243.6" x2="241.85" y2="241.8" stroke="#000" stroke-width="1.1"/>
<line x1="237.35" y1="241.8" x2="246.35" y2="241.8" stroke="#000" stroke-width="1.1"/>
<text x="242.5" y="240" font-size="9" text-anchor="middle">NS</text>
<rect x="252.50" y="245.00" width="9.30" height="3.50" fill="#fff" stroke="#000" stroke-width="1.1"/>
<rect x="261.80" y="243.00" width="11.40" height="5.50" fill="#13a552" stroke="#000" stroke-width="1.1"/>
<line x1="267.5" y1="243" x2="267.5" y2="240.8" stroke="#000" stroke-width="1.1"/>
<line x1="262.5" y1="240.8" x2="272.5" y2="240.8" stroke="#000" stroke-width="1.1"/>
<text x="267.5" y="242.60" font-size="8.5" font-weight="bold" text-anchor="middle" style="stroke-width:0">*</text>
<rect x="290.00" y="231.80" width="9.30" height="16.70" fill="#fff" stroke="#000" stroke-width="1.1"/>
<line x1="294.65" y1="231.8" x2="294.65" y2="229.3" stroke="#000" stroke-width="1.1"/>
<line x1="290.15" y1="229.3" x2="299.15" y2="229.3" stroke="#000" stroke-width="1.1"/>
<rect x="299.30" y="232.00" width="9.50" height="16.50" fill="#13a552" stroke="#000" stroke-width="1.1"/>
<line x1="304.05" y1="232" x2="304.05" y2="230.5" stroke="#000" stroke-width="1.1"/>
<line x1="299.55" y1="230.5" x2="308.55" y2="230.5" stroke="#000" stroke-width="1.1"/>
<text x="306" y="228.8" font-size="9" text-anchor="middle">NS</text>
<rect x="314.20" y="243.00" width="9.60" height="5.50" fill="#fff" stroke="#000" stroke-width="1.1"/>
<line x1="319.0" y1="243" x2="319.0" y2="240.7" stroke="#000" stroke-width="1.1"/>
<line x1="314.5" y1="240.7" x2="323.5" y2="240.7" stroke="#000" stroke-width="1.1"/>
<rect x="323.80" y="227.00" width="9.20" height="21.50" fill="#13a552" stroke="#000" stroke-width="1.1"/>
<line x1="328.4" y1="227" x2="328.4" y2="223.2" stroke="#000" stroke-width="1.1"/>
<line x1="323.9" y1="223.2" x2="332.9" y2="223.2" stroke="#000" stroke-width="1.1"/>
<text x="329.3" y="224.40" font-size="8.5" font-weight="bold" text-anchor="middle" style="stroke-width:0">**</text>
<rect x="355.00" y="224.50" width="9.30" height="24.00" fill="#fff" stroke="#000" stroke-width="1.1"/>
<line x1="359.65" y1="224.5" x2="359.65" y2="220" stroke="#000" stroke-width="1.1"/>
<line x1="355.15" y1="220" x2="364.15" y2="220" stroke="#000" stroke-width="1.1"/>
<rect x="364.30" y="230.00" width="9.00" height="18.50" fill="#13a552" stroke="#000" stroke-width="1.1"/>
<line x1="368.8" y1="230" x2="368.8" y2="228" stroke="#000" stroke-width="1.1"/>
<line x1="364.3" y1="228" x2="373.3" y2="228" stroke="#000" stroke-width="1.1"/>
<text x="371.4" y="226.2" font-size="9" text-anchor="middle">NS</text>
<rect x="379.50" y="240.00" width="9.80" height="8.50" fill="#fff" stroke="#000" stroke-width="1.1"/>
<line x1="384.4" y1="240" x2="384.4" y2="237.5" stroke="#000" stroke-width="1.1"/>
<line x1="379.9" y1="237.5" x2="388.9" y2="237.5" stroke="#000" stroke-width="1.1"/>
<rect x="389.30" y="225.00" width="9.50" height="23.50" fill="#13a552" stroke="#000" stroke-width="1.1"/>
<line x1="394.05" y1="225" x2="394.05" y2="220.8" stroke="#000" stroke-width="1.1"/>
<line x1="389.55" y1="220.8" x2="398.55" y2="220.8" stroke="#000" stroke-width="1.1"/>
<text x="394" y="222.40" font-size="8.5" font-weight="bold" text-anchor="middle" style="stroke-width:0">**</text>
<rect x="418.30" y="210.50" width="9.30" height="38.00" fill="#fff" stroke="#000" stroke-width="1.1"/>
<rect x="427.60" y="193.00" width="9.90" height="55.50" fill="#13a552" stroke="#000" stroke-width="1.1"/>
<line x1="432.55" y1="193" x2="432.55" y2="184.5" stroke="#000" stroke-width="1.1"/>
<line x1="428.05" y1="184.5" x2="437.05" y2="184.5" stroke="#000" stroke-width="1.1"/>
<text x="432.5" y="184.00" font-size="8.5" font-weight="bold" text-anchor="middle" style="stroke-width:0">*</text>
<rect x="444.50" y="198.80" width="8.80" height="49.70" fill="#fff" stroke="#000" stroke-width="1.1"/>
<line x1="448.9" y1="198.8" x2="448.9" y2="187" stroke="#000" stroke-width="1.1"/>
<line x1="444.65" y1="187" x2="453.15" y2="187" stroke="#000" stroke-width="1.1"/>
<rect x="453.30" y="147.00" width="9.70" height="101.50" fill="#13a552" stroke="#000" stroke-width="1.1"/>
<line x1="458.15" y1="147" x2="458.15" y2="140.8" stroke="#000" stroke-width="1.1"/>
<line x1="453.65" y1="140.8" x2="462.65" y2="140.8" stroke="#000" stroke-width="1.1"/>
<text x="458" y="140.40" font-size="8.5" font-weight="bold" text-anchor="middle" style="stroke-width:0">**</text>
<text x="230" y="259.7" font-size="10.5">A<tspan font-size="6.6" dy="-3.3">+</tspan><tspan dy="3.3">7</tspan><tspan font-size="6.6" dy="-3.3">-</tspan></text>
<text x="290.5" y="259.7" font-size="10.5">A<tspan font-size="6.6" dy="-3.3">+</tspan><tspan dy="3.3">7</tspan><tspan font-size="6.6" dy="-3.3">-</tspan></text>
<text x="355.5" y="259.7" font-size="10.5">A<tspan font-size="6.6" dy="-3.3">+</tspan><tspan dy="3.3">7</tspan><tspan font-size="6.6" dy="-3.3">-</tspan></text>
<text x="420" y="259.7" font-size="10.5">A<tspan font-size="6.6" dy="-3.3">+</tspan><tspan dy="3.3">7</tspan><tspan font-size="6.6" dy="-3.3">-</tspan></text>
<text x="256.3" y="259.7" font-size="10.5">A<tspan font-size="6.6" dy="-3.3">+</tspan><tspan dy="3.3">7</tspan><tspan font-size="6.6" dy="-3.3">+</tspan></text>
<text x="317" y="259.7" font-size="10.5">A<tspan font-size="6.6" dy="-3.3">+</tspan><tspan dy="3.3">7</tspan><tspan font-size="6.6" dy="-3.3">+</tspan></text>
<text x="381.8" y="259.7" font-size="10.5">A<tspan font-size="6.6" dy="-3.3">+</tspan><tspan dy="3.3">7</tspan><tspan font-size="6.6" dy="-3.3">+</tspan></text>
<text x="445" y="259.7" font-size="10.5">A<tspan font-size="6.6" dy="-3.3">+</tspan><tspan dy="3.3">7</tspan><tspan font-size="6.6" dy="-3.3">+</tspan></text>
<text x="0.3" y="293.8" font-size="12.3" text-anchor="start">B</text>
<text x="118.4" y="292.6" font-size="10" text-anchor="middle">preproB</text>
<text x="14.5" y="317.4" font-size="10" text-anchor="start">hCD4-</text>
<text x="11.7" y="381.9" font-size="10" text-anchor="start">hCD4+</text>
<text x="42.1" y="351.6" font-size="9.8" text-anchor="middle" transform="rotate(-90 42.1 351.6)">BrdU</text>
<text x="73.6" y="421.8" font-size="10" text-anchor="middle">7AAD</text>
<rect x="47.00" y="298.10" width="55.70" height="54.60" fill="#fff" stroke="#aaa" stroke-width="0.7"/>
<rect x="56.00" y="303.10" width="40.00" height="25.50" fill="none" stroke="#9a9a9a" stroke-width="0.9"/>
<rect x="47.60" y="329.60" width="23.80" height="22.00" fill="none" stroke="#8c7f78" stroke-width="0.9"/>
<rect x="75.00" y="329.60" width="18.80" height="22.00" fill="none" stroke="#8c7f78" stroke-width="0.9"/>
<path d="M62.6 325.1h.01M62.9 325.9h.01M63.0 328.5h.01M62.9 327.0h.01M61.7 318.6h.01M62.4 327.7h.01M62.5 324.4h.01M61.7 328.2h.01M62.3 326.6h.01M63.8 327.3h.01M64.8 325.7h.01M63.7 327.7h.01M62.2 326.1h.01M62.3 323.4h.01M63.1 324.1h.01M64.3 324.1h.01M62.3 326.2h.01M62.3 326.1h.01M62.3 322.4h.01M60.6 322.8h.01M64.2 327.1h.01M62.9 324.8h.01M62.7 326.7h.01M61.5 324.0h.01M62.0 329.1h.01" stroke="#b59be8" stroke-opacity="0.5" stroke-width="0.8" stroke-linecap="round" fill="none"/>
<path d="M79.7 325.1h.01M82.7 330.5h.01M84.6 321.1h.01M91.8 324.1h.01M89.7 317.3h.01M90.7 326.9h.01M84.5 319.3h.01M79.5 324.6h.01M86.5 321.0h.01M78.8 326.7h.01M89.4 320.9h.01M92.4 317.7h.01M89.4 317.5h.01M92.1 320.0h.01M91.1 319.5h.01M87.0 325.0h.01M80.5 321.3h.01M80.8 324.0h.01M82.0 319.7h.01M84.0 325.1h.01M79.8 320.9h.01M83.4 319.1h.01M81.1 320.4h.01M86.0 315.6h.01M86.2 316.9h.01M85.1 329.0h.01M80.2 320.8h.01M83.7 324.4h.01M82.6 314.8h.01M76.9 321.6h.01M86.3 324.7h.01M82.3 323.3h.01M79.7 325.5h.01M84.6 318.6h.01M85.9 327.1h.01" stroke="#b9b6ee" stroke-opacity="0.45" stroke-width="0.8" stroke-linecap="round" fill="none"/>
<ellipse cx="62.9" cy="335.3" rx="3" ry="6.1" fill="#2f62e0" fill-opacity="0.95" filter="url(#b05)"/>
<ellipse cx="62.9" cy="335.3" rx="2.1" ry="4.5" fill="#22c5d5" fill-opacity="0.95" filter="url(#b05)"/>
<ellipse cx="62.9" cy="335.3" rx="1.3" ry="3" fill="#4fd135" fill-opacity="1" filter="url(#b05)"/>
<text x="58.4" y="312" font-size="9.6" text-anchor="start">S</text>
<text x="48.4" y="350.6" font-size="9.6" text-anchor="start">G1</text>
<text x="73.6" y="350.6" font-size="9.3" text-anchor="start">G2M</text>
<rect x="47.00" y="356.60" width="55.70" height="55.30" fill="#fff" stroke="#aaa" stroke-width="0.7"/>
<rect x="56.00" y="362.40" width="40.00" height="25.70" fill="none" stroke="#9a9a9a" stroke-width="0.9"/>
<rect x="47.60" y="388.90" width="23.80" height="22.20" fill="none" stroke="#8c7f78" stroke-width="0.9"/>
<rect x="75.00" y="388.90" width="18.80" height="22.20" fill="none" stroke="#8c7f78" stroke-width="0.9"/>
<path d="M75.3 372.0h.01M74.4 372.2h.01M79.7 378.2h.01M79.1 377.6h.01M86.5 376.8h.01M73.1 368.0h.01M81.3 374.8h.01M78.6 378.3h.01M82.5 371.8h.01M74.7 376.6h.01M79.2 380.9h.01M77.2 369.4h.01M86.4 372.1h.01M74.7 377.7h.01M74.2 385.0h.01M81.3 379.1h.01M77.6 384.5h.01M83.0 374.9h.01M86.9 371.9h.01M76.8 377.6h.01M80.8 373.7h.01M88.7 383.3h.01M74.9 377.6h.01M76.5 375.0h.01M85.4 378.2h.01M79.4 377.3h.01M73.6 380.5h.01M75.9 381.1h.01M77.5 375.1h.01M88.2 378.7h.01M76.5 374.7h.01M83.3 384.0h.01M83.4 376.1h.01M73.8 373.8h.01M79.3 377.8h.01M76.4 381.0h.01M74.7 373.8h.01M82.7 379.1h.01M77.9 380.1h.01M72.3 381.7h.01M92.0 385.5h.01M80.7 384.0h.01M80.3 381.7h.01M78.9 377.5h.01M82.9 371.2h.01M78.9 382.9h.01M63.9 376.3h.01M85.1 378.8h.01M81.1 382.0h.01M81.8 370.6h.01M74.8 375.3h.01M80.8 375.5h.01M79.4 382.8h.01M63.9 379.0h.01M85.2 379.8h.01M80.1 377.2h.01M82.0 378.1h.01M76.0 379.2h.01M75.5 376.3h.01M78.0 372.7h.01M83.3 377.2h.01M73.6 375.9h.01M72.4 381.1h.01M82.8 384.4h.01M76.9 379.1h.01M74.7 373.3h.01M79.5 378.4h.01M85.1 376.7h.01M86.1 381.2h.01M75.2 375.7h.01M75.0 382.3h.01M77.0 379.7h.01M85.0 376.8h.01M77.3 377.9h.01M75.8 372.0h.01M74.7 377.5h.01M81.1 383.3h.01M70.0 377.5h.01M73.7 380.2h.01M83.8 377.9h.01M88.1 376.7h.01M77.1 372.9h.01M76.4 376.9h.01M83.7 382.0h.01M78.5 374.2h.01M78.2 375.3h.01M77.4 375.3h.01M75.2 376.2h.01M77.2 376.0h.01M72.4 376.5h.01M83.1 379.7h.01M77.0 372.6h.01M72.9 372.0h.01M76.5 375.5h.01M70.3 378.1h.01M71.6 373.5h.01M76.1 379.4h.01M90.0 377.1h.01M78.5 375.4h.01M78.9 376.3h.01M93.5 375.0h.01M79.4 374.2h.01M81.9 375.4h.01M83.1 373.6h.01M91.5 379.2h.01M70.4 378.2h.01M77.4 372.6h.01M82.4 375.5h.01M84.0 375.6h.01M84.9 378.2h.01M81.9 377.8h.01M78.0 375.5h.01M82.5 379.8h.01M77.8 384.5h.01M89.2 374.2h.01M85.9 377.5h.01M81.3 374.4h.01M89.0 375.3h.01M79.6 374.4h.01M90.5 382.7h.01M72.8 374.5h.01M82.0 375.8h.01M78.1 373.0h.01M81.4 373.4h.01M84.5 385.9h.01M78.2 382.5h.01M82.0 374.9h.01M78.1 373.4h.01M80.6 379.5h.01M85.1 376.7h.01M73.5 375.9h.01M89.1 379.2h.01M79.7 369.8h.01M77.7 378.6h.01M74.9 381.0h.01M76.9 373.6h.01M76.9 376.3h.01M85.4 375.8h.01M70.3 375.5h.01M82.8 382.7h.01M73.9 381.3h.01M83.7 379.1h.01M75.8 373.4h.01M74.8 379.6h.01M81.2 380.9h.01M89.8 378.4h.01M79.7 383.6h.01M72.9 374.5h.01M78.0 375.4h.01M80.8 374.2h.01M86.3 373.1h.01M75.6 370.6h.01M72.4 378.1h.01M83.4 376.8h.01M84.6 379.7h.01M76.9 376.5h.01M82.0 384.2h.01M77.6 378.0h.01M83.0 381.6h.01M82.3 381.0h.01M74.2 375.4h.01M69.5 375.5h.01M92.6 379.5h.01M80.5 378.0h.01M80.8 372.5h.01M76.3 375.9h.01M80.9 374.2h.01M79.4 374.4h.01M72.9 373.8h.01M75.6 379.3h.01" stroke="#5a63d8" stroke-opacity="0.5" stroke-width="0.84" stroke-linecap="round" fill="none"/>
<path d="M87.3 379.4h.01M83.5 376.7h.01M80.1 376.8h.01M87.8 380.7h.01M84.6 377.4h.01M84.0 379.0h.01M84.0 379.0h.01M82.1 378.1h.01M83.1 380.5h.01M81.0 381.1h.01M83.8 376.8h.01M84.1 378.3h.01M83.4 379.0h.01M82.6 374.0h.01M85.7 378.0h.01M88.1 378.9h.01M79.1 380.9h.01M82.3 379.3h.01M89.5 380.6h.01M81.3 377.8h.01M80.1 379.6h.01M85.4 375.6h.01M85.1 380.2h.01M86.0 376.4h.01M82.3 375.4h.01M80.8 378.8h.01M84.1 381.1h.01M84.7 377.3h.01M80.5 381.6h.01M84.4 377.9h.01M81.5 375.6h.01M85.6 375.7h.01M85.4 379.5h.01M83.1 374.2h.01M85.0 381.3h.01M82.0 375.1h.01M86.7 378.4h.01M82.5 380.9h.01M83.3 379.1h.01M83.0 376.3h.01M84.5 376.0h.01M79.6 376.8h.01M87.0 380.6h.01M89.3 380.3h.01M88.0 378.6h.01M82.9 379.1h.01M81.7 379.7h.01M82.9 378.6h.01M81.9 377.7h.01M86.4 377.5h.01M82.3 378.7h.01M86.2 377.6h.01M81.1 374.4h.01M80.7 380.5h.01M83.8 379.1h.01M86.6 378.7h.01M85.2 376.8h.01M80.1 379.5h.01M83.8 379.4h.01M81.4 377.7h.01M88.9 376.1h.01M84.2 381.1h.01M83.4 378.3h.01M78.8 379.8h.01M82.9 381.0h.01M83.8 377.2h.01M85.1 377.5h.01M82.7 381.6h.01M86.4 378.3h.01M86.0 379.9h.01M85.4 378.1h.01M84.2 379.0h.01M85.4 378.9h.01M82.7 377.9h.01M85.1 375.8h.01M84.0 379.8h.01M84.4 377.4h.01M83.9 376.9h.01M86.4 377.2h.01M79.9 375.2h.01M84.7 378.5h.01M82.8 375.0h.01M83.6 376.1h.01M82.4 378.0h.01M82.1 378.8h.01M82.2 377.0h.01M83.4 381.4h.01M87.9 380.2h.01M82.2 378.0h.01M86.2 379.9h.01" stroke="#4a55d6" stroke-opacity="0.55" stroke-width="0.84" stroke-linecap="round" fill="none"/>
<path d="M61.1 386.9h.01M62.1 388.5h.01M63.7 386.0h.01M65.5 386.5h.01M65.9 386.7h.01M62.9 390.7h.01M62.4 386.1h.01M64.7 387.0h.01M63.6 384.6h.01M65.1 388.9h.01M63.4 388.4h.01M62.4 386.1h.01M61.2 387.7h.01M64.5 388.7h.01M64.1 388.4h.01" stroke="#b59be8" stroke-opacity="0.5" stroke-width="0.8" stroke-linecap="round" fill="none"/>
<ellipse cx="62.4" cy="395.5" rx="3.3" ry="6.1" fill="#2f62e0" fill-opacity="0.95" filter="url(#b05)"/>
<ellipse cx="62.4" cy="395.5" rx="2.3" ry="4.6" fill="#22c5d5" fill-opacity="0.95" filter="url(#b05)"/>
<ellipse cx="62.2" cy="395.3" rx="1.5" ry="3.2" fill="#4fd135" fill-opacity="1" filter="url(#b05)"/>
<path d="M143.7 299.3V408H245" stroke="#000" fill="none" stroke-width="1.2"/>
<line x1="142" y1="303" x2="145.4" y2="303" stroke="#000" stroke-width="1"/>
<text x="141.7" y="306.2" font-size="10" text-anchor="end">100</text>
<line x1="142" y1="323.3" x2="145.4" y2="323.3" stroke="#000" stroke-width="1"/>
<text x="141.7" y="326.5" font-size="10" text-anchor="end">80</text>
<line x1="142" y1="343.7" x2="145.4" y2="343.7" stroke="#000" stroke-width="1"/>
<text x="141.7" y="346.9" font-size="10" text-anchor="end">60</text>
<line x1="142" y1="364" x2="145.4" y2="364" stroke="#000" stroke-width="1"/>
<text x="141.7" y="367.2" font-size="10" text-anchor="end">40</text>
<line x1="142" y1="384.5" x2="145.4" y2="384.5" stroke="#000" stroke-width="1"/>
<text x="141.7" y="387.7" font-size="10" text-anchor="end">20</text>
<text x="125.3" y="345" font-size="10" text-anchor="middle" transform="rotate(-90 125.3 345)">Percent</text>
<rect x="151.30" y="305.50" width="12.00" height="102.50" fill="#fff" stroke="#000" stroke-width="1.1"/>
<line x1="157.3" y1="305.5" x2="157.3" y2="304.5" stroke="#000" stroke-width="1.1"/>
<line x1="152.8" y1="304.5" x2="161.8" y2="304.5" stroke="#000" stroke-width="1.1"/>
<rect x="163.30" y="318.00" width="12.20" height="90.00" fill="#1f9fe3" stroke="#000" stroke-width="1.1"/>
<line x1="169.4" y1="318" x2="169.4" y2="316.3" stroke="#000" stroke-width="1.1"/>
<line x1="164.9" y1="316.3" x2="173.9" y2="316.3" stroke="#000" stroke-width="1.1"/>
<text x="170.1" y="317.40" font-size="8.5" font-weight="bold" text-anchor="middle" style="stroke-width:0">***</text>
<rect x="182.00" y="404.50" width="13.00" height="3.50" fill="#fff" stroke="#000" stroke-width="1.1"/>
<rect x="195.00" y="387.70" width="12.50" height="20.30" fill="#1f9fe3" stroke="#000" stroke-width="1.1"/>
<line x1="201.25" y1="387.7" x2="201.25" y2="386.2" stroke="#000" stroke-width="1.1"/>
<line x1="196.75" y1="386.2" x2="205.75" y2="386.2" stroke="#000" stroke-width="1.1"/>
<text x="201.3" y="387.40" font-size="8.5" font-weight="bold" text-anchor="middle" style="stroke-width:0">***</text>
<line x1="214.3" y1="407" x2="226.3" y2="407" stroke="#000" stroke-width="1.6"/>
<line x1="226.3" y1="407" x2="239.3" y2="407" stroke="#1f9fe3" stroke-width="1.6"/>
<text x="165.3" y="418.8" font-size="10" text-anchor="middle">G1</text>
<text x="194.9" y="418.8" font-size="10" text-anchor="middle">S</text>
<text x="224.5" y="418.8" font-size="10" text-anchor="middle">G2M</text>
<rect x="285.20" y="297.50" width="50.70" height="50.20" fill="#fff" stroke="#b8b8b8" stroke-width="0.7"/>
<line x1="308.1" y1="297.5" x2="308.1" y2="347.7" stroke="#585858" stroke-width="1.15"/>
<line x1="285.2" y1="327.5" x2="335.9" y2="327.5" stroke="#585858" stroke-width="1.15"/>
<path d="M287.2 347.7v1M298.9 347.7v1M310.5 347.7v1M322.2 347.7v1M333.9 347.7v1M285.2 299.5h-1M285.2 311.1h-1M285.2 322.6h-1M285.2 334.1h-1M285.2 345.7h-1" stroke="#999" stroke-width="0.5" fill="none"/>
<path d="M291.7 332.2h.01M298.5 338.1h.01M299.9 336.4h.01M291.9 339.3h.01M293.3 330.9h.01M293.1 333.9h.01M290.9 335.3h.01M299.8 346.9h.01M303.1 335.8h.01M300.6 337.2h.01M297.4 334.8h.01M295.4 330.8h.01M303.4 334.4h.01M298.2 335.1h.01M296.9 332.8h.01M294.1 341.1h.01M298.3 329.7h.01M299.4 332.2h.01M296.9 339.5h.01M292.9 336.2h.01M294.6 339.1h.01M299.6 342.9h.01M297.1 345.4h.01M291.6 344.6h.01M294.6 340.5h.01M295.2 337.8h.01M291.7 339.0h.01M304.4 338.1h.01M295.6 337.5h.01M298.8 336.7h.01M295.7 338.3h.01M301.3 341.3h.01M291.2 334.9h.01M295.8 340.9h.01M299.9 336.6h.01M304.9 336.8h.01M301.8 343.2h.01M302.6 338.3h.01M298.2 331.4h.01M288.0 335.0h.01M298.8 341.7h.01M295.3 341.6h.01M298.2 343.5h.01M288.8 334.2h.01M291.6 333.3h.01M302.8 333.8h.01M292.1 335.9h.01M299.5 335.6h.01M298.9 339.7h.01M292.9 328.0h.01M291.7 332.5h.01M302.7 334.6h.01M291.1 339.0h.01M295.9 333.7h.01M300.4 341.1h.01M296.9 334.4h.01M291.9 329.3h.01M297.4 339.0h.01M291.7 337.6h.01M309.8 333.0h.01M288.3 339.9h.01M293.9 335.5h.01M298.4 336.9h.01M300.0 339.5h.01M300.7 337.9h.01M286.4 342.9h.01M288.4 341.6h.01M296.8 331.9h.01M296.0 341.0h.01M291.3 337.6h.01M292.5 333.5h.01M293.0 342.5h.01M298.7 337.3h.01M295.3 338.0h.01M296.9 338.2h.01M288.3 341.1h.01M292.0 327.1h.01M298.7 332.6h.01M295.1 337.1h.01M293.2 339.6h.01M294.5 336.3h.01M291.6 336.3h.01M291.2 337.6h.01M301.4 341.5h.01M297.5 332.0h.01M300.1 341.2h.01M304.6 328.5h.01M295.8 336.1h.01M300.4 333.1h.01M294.1 346.7h.01M300.0 329.5h.01M295.8 342.9h.01M293.0 339.8h.01M296.1 331.6h.01M293.0 342.0h.01M300.8 335.0h.01M300.6 334.6h.01M296.8 337.4h.01M290.3 338.7h.01M294.0 326.5h.01M292.1 334.0h.01M292.1 333.5h.01M292.7 327.6h.01M299.6 337.7h.01M296.8 336.4h.01M296.0 336.4h.01M291.0 331.4h.01M296.0 341.5h.01M296.7 343.9h.01M289.8 336.4h.01M293.0 342.4h.01M303.0 335.3h.01M298.9 336.5h.01M291.4 337.0h.01M291.2 343.6h.01M298.3 342.2h.01M297.3 327.7h.01M299.2 337.8h.01M300.1 344.3h.01M291.3 340.6h.01M297.1 336.7h.01M294.5 339.5h.01M298.2 340.1h.01M293.9 332.1h.01M301.4 342.6h.01M293.3 337.3h.01M299.2 330.4h.01M297.9 347.1h.01M296.9 334.6h.01M304.5 337.5h.01M296.6 335.7h.01M296.5 330.2h.01M290.1 331.5h.01M299.6 337.0h.01M300.7 329.2h.01M293.1 343.3h.01M292.3 329.9h.01M292.5 336.0h.01M295.6 342.7h.01M301.5 343.7h.01M298.2 335.4h.01M293.6 331.5h.01M301.2 342.5h.01M296.1 333.8h.01M298.6 339.4h.01M296.4 332.7h.01M296.7 335.1h.01M298.9 339.8h.01M297.6 335.7h.01M302.3 340.5h.01M301.2 340.8h.01M298.6 339.0h.01M291.1 330.1h.01M291.7 339.9h.01M299.6 338.1h.01M296.1 344.8h.01M294.0 330.2h.01M289.0 336.1h.01M298.7 340.4h.01M294.7 340.7h.01M295.5 334.5h.01M294.1 340.4h.01M299.8 332.9h.01M291.4 337.9h.01M304.9 332.7h.01M290.3 339.1h.01M297.9 334.9h.01M295.6 339.4h.01M288.2 337.3h.01M298.3 341.1h.01M300.7 337.1h.01M289.5 342.8h.01M299.0 334.8h.01M300.2 341.6h.01M295.1 327.9h.01M293.7 334.4h.01M292.1 337.1h.01M291.0 339.0h.01M303.8 332.6h.01M300.2 335.3h.01M298.0 336.9h.01M301.2 334.5h.01M298.9 334.3h.01M296.7 337.3h.01M300.4 331.1h.01M289.9 343.0h.01M297.4 344.2h.01M291.3 338.3h.01M298.3 344.5h.01M295.5 335.6h.01M298.8 337.0h.01M292.5 340.5h.01M287.5 333.3h.01M301.6 335.4h.01M294.3 338.9h.01M300.5 339.5h.01M291.5 335.1h.01M300.2 336.9h.01M293.0 340.9h.01M300.6 346.2h.01M291.1 334.6h.01M292.7 338.8h.01M293.6 341.9h.01M292.9 336.3h.01M298.1 338.2h.01M291.3 343.4h.01M298.2 335.4h.01M296.6 332.9h.01M290.4 336.2h.01M297.3 337.8h.01M292.4 331.8h.01M288.5 343.8h.01M297.3 334.2h.01M300.8 339.6h.01M293.9 334.9h.01M300.6 338.7h.01M302.7 338.9h.01M293.2 335.0h.01M292.7 338.4h.01M296.8 339.8h.01M297.6 333.2h.01M294.8 333.6h.01M297.8 332.1h.01M293.2 333.9h.01M293.1 336.4h.01M302.2 336.4h.01M289.6 336.2h.01M298.9 339.6h.01M296.7 345.4h.01M300.5 337.8h.01M300.9 332.0h.01M295.0 333.9h.01M296.5 343.9h.01M293.6 343.8h.01M291.3 343.1h.01M288.4 334.0h.01M300.0 337.0h.01M296.3 337.3h.01M296.5 336.7h.01M291.5 336.2h.01M296.2 333.8h.01M297.7 344.5h.01M288.7 335.2h.01M294.5 337.5h.01M296.1 334.5h.01M295.6 337.4h.01M295.3 343.6h.01M296.3 331.4h.01M289.0 339.8h.01M294.2 334.9h.01M289.9 336.2h.01M295.3 334.6h.01M294.2 341.0h.01M299.1 339.6h.01M295.0 331.9h.01M299.0 343.4h.01M301.2 342.1h.01M296.9 338.9h.01M295.6 342.5h.01M294.6 346.0h.01M299.0 336.1h.01M295.7 330.9h.01M292.6 336.2h.01M306.2 334.1h.01M299.6 337.7h.01M294.4 339.9h.01M287.2 341.2h.01M304.0 338.6h.01M295.4 338.0h.01M298.5 335.4h.01M296.2 339.4h.01M294.2 339.0h.01M297.1 340.3h.01M291.5 335.2h.01M293.9 342.2h.01M296.8 330.7h.01M290.2 345.2h.01M297.1 332.2h.01M291.8 338.0h.01M301.8 343.9h.01M294.1 336.2h.01M303.9 333.4h.01M302.4 338.8h.01M296.1 342.6h.01M297.8 334.0h.01M289.2 337.5h.01M297.9 342.9h.01M298.3 343.5h.01M299.1 338.3h.01M297.5 339.0h.01M293.0 336.9h.01M296.2 335.6h.01M289.4 331.6h.01M297.9 339.5h.01M296.2 332.7h.01M299.3 335.8h.01M286.8 343.7h.01M289.3 346.5h.01M298.0 335.6h.01M285.7 334.6h.01M302.0 342.9h.01M296.8 330.5h.01M294.1 336.3h.01M297.7 336.9h.01M297.2 330.8h.01M293.0 343.2h.01M289.5 341.1h.01M305.6 340.0h.01M289.8 342.4h.01M287.8 338.8h.01M294.0 342.4h.01M300.7 338.2h.01M303.4 341.4h.01M293.7 333.4h.01M306.2 335.8h.01M297.5 336.9h.01M293.7 330.9h.01M295.1 336.9h.01M299.9 335.3h.01M289.0 333.1h.01M295.5 338.4h.01M298.8 335.9h.01M298.0 338.0h.01M302.9 337.2h.01M296.3 339.7h.01M300.9 333.7h.01M293.7 336.3h.01M286.6 342.7h.01M300.3 337.5h.01M310.1 342.5h.01M304.3 343.7h.01M299.6 331.7h.01M302.2 339.1h.01M290.6 337.6h.01M298.9 341.4h.01M296.5 335.3h.01M299.0 334.3h.01M295.4 340.5h.01M289.5 338.9h.01M287.3 333.6h.01M290.4 337.0h.01M298.8 337.2h.01M299.6 337.8h.01M294.8 339.4h.01M294.7 337.9h.01M300.2 335.1h.01M300.6 332.9h.01M294.8 330.4h.01M293.4 343.8h.01M297.2 342.5h.01M289.4 333.3h.01M297.7 340.8h.01M299.3 330.6h.01M297.9 337.1h.01M296.2 339.3h.01M294.5 330.5h.01M291.1 331.5h.01M290.1 336.9h.01M301.3 334.5h.01M292.4 332.7h.01M288.3 337.7h.01M293.6 336.4h.01M291.6 339.4h.01M290.6 339.6h.01M292.9 340.6h.01M291.9 339.2h.01M297.6 337.1h.01M302.7 338.1h.01M291.9 340.2h.01M292.2 335.2h.01M295.8 338.1h.01M303.0 330.3h.01M294.6 342.0h.01M295.0 338.7h.01M302.2 332.4h.01M295.9 340.6h.01M293.2 330.3h.01M291.4 338.2h.01M296.5 344.9h.01M301.4 331.1h.01M300.1 341.1h.01M302.6 336.8h.01M293.3 338.0h.01M302.3 339.9h.01M303.0 340.6h.01M293.2 333.3h.01M303.6 331.3h.01M294.2 336.1h.01M291.8 335.1h.01M295.7 347.1h.01M295.4 335.3h.01M296.2 341.2h.01M292.2 335.8h.01M288.2 340.3h.01M298.6 343.5h.01M290.6 346.2h.01M299.4 336.3h.01M294.0 336.1h.01M290.5 340.5h.01M293.1 334.5h.01M297.9 337.9h.01M293.2 336.4h.01M293.6 342.9h.01M300.0 334.4h.01M295.5 343.0h.01M294.5 344.6h.01M297.6 340.1h.01M286.8 340.9h.01M297.2 339.8h.01M297.8 339.5h.01M293.5 341.1h.01M296.0 333.1h.01M291.3 338.1h.01M297.1 328.4h.01M286.8 341.7h.01M289.1 336.4h.01M293.1 339.7h.01M301.7 344.0h.01M291.4 342.4h.01M290.5 338.7h.01M296.4 339.9h.01M292.3 342.8h.01M295.4 337.3h.01M294.6 333.1h.01M298.8 338.8h.01M297.7 345.0h.01M292.0 336.2h.01M295.7 340.9h.01M294.9 341.2h.01M297.7 330.2h.01M292.8 329.1h.01M294.5 335.7h.01M298.2 338.1h.01M295.4 342.5h.01M298.3 332.4h.01M292.7 338.7h.01M303.0 336.6h.01M295.0 338.5h.01M299.1 337.0h.01M297.0 335.7h.01M293.3 334.2h.01M298.5 335.1h.01M298.1 339.1h.01M299.9 326.5h.01M291.6 332.4h.01M295.0 340.7h.01M306.6 343.7h.01M301.5 339.0h.01M294.0 339.6h.01M286.3 341.2h.01M295.7 339.9h.01M291.3 332.9h.01M292.9 337.2h.01M297.2 336.0h.01M297.2 340.2h.01M290.7 337.0h.01M289.0 335.2h.01M299.6 334.5h.01M303.7 339.5h.01M299.5 337.8h.01M299.4 341.9h.01M296.2 335.2h.01M293.3 345.3h.01M294.9 335.5h.01M292.7 330.5h.01M293.6 338.7h.01M293.6 334.3h.01M297.5 339.3h.01M293.8 338.7h.01M291.5 340.9h.01M291.5 336.0h.01M296.3 335.7h.01M290.8 346.0h.01M302.2 330.3h.01M296.2 332.2h.01M297.0 332.1h.01M298.2 339.6h.01M303.0 342.3h.01M293.7 341.3h.01M293.7 336.9h.01M293.6 330.2h.01M298.3 329.1h.01M294.7 339.5h.01M296.2 331.0h.01M292.9 340.2h.01M300.4 343.9h.01M287.9 339.3h.01M293.6 340.5h.01M288.4 336.8h.01M298.7 334.8h.01M294.1 333.4h.01M300.5 332.0h.01M291.8 336.0h.01M294.3 346.0h.01M296.9 334.0h.01M298.2 338.8h.01M296.9 337.1h.01M297.7 332.6h.01M290.5 335.7h.01M291.0 340.3h.01M304.0 342.5h.01M297.6 338.8h.01M292.8 332.1h.01M298.1 331.4h.01M297.0 336.8h.01M298.9 337.6h.01M296.2 335.0h.01M288.3 336.0h.01M298.7 341.7h.01M301.6 333.3h.01M291.7 340.3h.01M297.1 331.2h.01M293.3 343.8h.01M287.9 338.0h.01M289.7 343.9h.01M293.8 333.2h.01M288.4 334.5h.01M305.1 337.8h.01M294.6 332.7h.01M297.2 335.5h.01M292.1 343.1h.01M297.6 333.8h.01M302.1 337.2h.01M297.9 338.0h.01M300.8 339.9h.01M294.2 340.3h.01M294.0 337.9h.01M302.8 333.1h.01M291.2 335.8h.01M293.6 342.7h.01M288.9 346.8h.01M302.5 335.6h.01M296.5 335.9h.01M298.6 340.1h.01M298.9 340.5h.01M304.0 336.7h.01M298.7 336.6h.01M295.9 338.3h.01M295.5 338.8h.01M292.0 336.8h.01M293.1 332.6h.01M292.7 335.4h.01M295.1 331.0h.01M294.6 332.8h.01M292.2 338.2h.01M300.5 338.6h.01M293.6 335.6h.01M301.5 330.7h.01M300.6 331.3h.01M293.0 337.6h.01M294.7 344.2h.01M297.8 337.2h.01M299.8 337.6h.01M292.2 342.0h.01M302.2 342.6h.01M290.6 345.2h.01M293.9 340.5h.01M300.8 347.1h.01M288.7 333.2h.01M300.8 339.4h.01M294.4 325.4h.01M297.6 336.6h.01M295.7 338.4h.01M298.9 336.3h.01M291.8 335.9h.01M286.6 332.8h.01M304.2 334.6h.01M295.4 345.2h.01M300.2 337.9h.01M298.9 336.3h.01M291.8 341.5h.01M296.3 344.0h.01M294.6 335.9h.01M297.2 336.6h.01M294.4 333.7h.01M296.8 338.7h.01M303.6 337.3h.01M288.1 339.3h.01M305.6 335.6h.01M292.2 336.7h.01M294.9 331.2h.01M298.2 333.8h.01M287.7 334.4h.01M298.4 345.3h.01M301.1 338.2h.01M293.5 336.3h.01M299.9 335.3h.01M297.5 341.4h.01M291.8 335.0h.01M297.6 337.4h.01M295.2 335.2h.01M295.4 345.0h.01M301.6 330.8h.01M295.9 337.8h.01M295.9 331.7h.01M295.1 338.0h.01M292.8 338.7h.01M296.1 339.0h.01M295.0 335.5h.01M296.5 341.9h.01M299.6 337.1h.01M293.7 341.8h.01M298.0 341.0h.01M294.5 333.9h.01M296.5 334.8h.01M300.7 340.9h.01M286.3 340.1h.01M301.5 341.7h.01M293.7 333.9h.01M299.9 341.6h.01M296.0 332.7h.01M289.1 338.5h.01M292.1 334.6h.01M297.6 341.7h.01M286.8 334.6h.01M301.3 337.2h.01M294.2 340.0h.01M290.8 332.4h.01M295.8 343.8h.01M300.1 337.4h.01M300.1 335.7h.01M290.6 330.5h.01M296.9 341.1h.01M297.3 337.2h.01M294.0 341.9h.01M295.5 331.5h.01M301.6 334.7h.01M297.4 337.4h.01M300.3 338.4h.01M301.0 338.3h.01M293.7 335.3h.01M298.5 334.0h.01M299.7 336.4h.01M291.7 333.8h.01M295.1 344.7h.01M299.0 337.5h.01M291.8 345.2h.01M294.5 337.4h.01M293.9 342.9h.01M296.5 335.5h.01" stroke="#222" stroke-opacity="0.4" stroke-width="0.84" stroke-linecap="round" fill="none"/>
<ellipse cx="295.7" cy="337.4" rx="5.5" ry="5" fill="#444" fill-opacity="0.5" filter="url(#b2)"/>
<path d="M307.8 306.8h.01M295.7 312.2h.01M325.5 302.6h.01M304.6 305.6h.01M307.7 310.8h.01M313.3 304.5h.01M300.1 309.7h.01M303.6 318.5h.01M304.0 310.8h.01M301.0 314.2h.01M331.2 308.8h.01M321.1 303.7h.01M316.4 308.3h.01M318.3 311.3h.01M312.4 303.6h.01M307.3 308.6h.01M310.4 309.7h.01M316.3 303.0h.01M298.7 311.9h.01M309.2 308.5h.01M305.7 310.7h.01M316.3 307.9h.01M308.4 304.0h.01M309.5 302.2h.01M310.0 309.3h.01M306.0 308.1h.01M301.9 314.1h.01M309.5 309.6h.01M301.2 312.3h.01M317.7 307.9h.01M302.4 307.4h.01M307.0 307.3h.01M291.9 316.5h.01M299.9 305.2h.01M298.9 318.1h.01M305.0 306.4h.01M295.2 315.2h.01M310.0 310.3h.01M304.1 312.5h.01M321.1 308.8h.01M304.4 306.3h.01M310.4 314.7h.01M312.4 305.0h.01M307.8 314.4h.01M299.8 313.5h.01M317.9 313.3h.01M290.3 308.2h.01M309.7 312.0h.01M302.5 311.2h.01M302.0 315.3h.01M293.4 311.0h.01M290.9 310.8h.01M305.8 310.6h.01M323.6 305.9h.01M309.4 310.9h.01M308.5 314.8h.01M307.4 310.7h.01M304.9 310.8h.01M305.5 313.9h.01M306.2 310.7h.01M305.5 313.1h.01M301.3 314.6h.01M300.4 314.0h.01M324.9 307.1h.01M305.1 306.8h.01M313.3 308.9h.01M315.0 306.4h.01M311.1 315.3h.01M310.0 308.6h.01M293.2 313.3h.01M312.5 311.0h.01M295.0 309.5h.01M296.4 309.3h.01M303.3 312.0h.01M325.0 307.0h.01M320.3 301.9h.01M321.2 309.8h.01M310.3 312.3h.01M312.1 315.5h.01M313.9 303.0h.01M288.8 319.6h.01M305.2 315.0h.01M302.6 309.1h.01M302.6 312.3h.01M307.8 308.1h.01M311.3 311.4h.01M296.9 308.8h.01M286.6 313.7h.01M306.1 308.2h.01M300.1 311.4h.01M306.3 312.3h.01M314.2 310.1h.01M317.0 304.9h.01M312.0 310.4h.01M295.7 310.5h.01M310.4 309.8h.01M293.6 311.4h.01M321.1 310.0h.01M306.8 314.8h.01M297.0 311.9h.01M315.5 307.3h.01M295.0 314.9h.01M321.8 298.6h.01M307.5 306.0h.01M303.1 306.5h.01M331.7 302.6h.01M306.4 308.1h.01M296.2 311.2h.01M308.1 315.8h.01M308.8 315.0h.01M295.5 313.1h.01M301.7 306.3h.01M308.4 307.5h.01M300.3 308.3h.01M316.1 306.9h.01M304.6 311.4h.01M293.9 313.9h.01M304.3 312.3h.01M302.2 311.5h.01M311.1 312.6h.01M299.2 315.2h.01M296.3 312.0h.01M307.3 310.7h.01M304.2 314.0h.01M299.0 317.0h.01M288.2 314.7h.01M311.3 309.4h.01M308.6 313.0h.01M298.0 314.2h.01M316.5 307.4h.01M297.6 308.9h.01M310.3 306.9h.01M330.5 307.0h.01M293.1 312.4h.01M321.1 309.4h.01M295.9 316.1h.01M301.3 318.8h.01M300.5 313.7h.01M311.6 307.8h.01M304.5 314.7h.01M310.9 309.2h.01M310.4 315.3h.01M315.2 310.0h.01M309.3 304.6h.01" stroke="#777" stroke-opacity="0.33" stroke-width="0.84" stroke-linecap="round" fill="none"/>
<path d="M293.4 314.6h.01M295.3 314.0h.01M294.4 311.8h.01M295.8 313.4h.01M292.9 319.9h.01M292.0 317.0h.01M296.4 325.7h.01M287.3 312.5h.01M295.1 321.6h.01M291.5 317.5h.01M292.4 328.2h.01M292.4 311.1h.01M288.1 310.7h.01M297.1 315.1h.01M299.2 320.2h.01M294.2 320.2h.01M295.5 321.5h.01M289.9 314.2h.01M291.3 317.5h.01M292.2 310.9h.01M290.8 325.8h.01M299.7 312.8h.01M294.2 316.8h.01M290.3 320.5h.01M292.8 325.2h.01M294.4 315.5h.01M295.7 313.5h.01M295.8 320.4h.01M287.4 316.0h.01M294.0 320.7h.01M293.5 316.9h.01M291.9 315.6h.01M293.0 311.8h.01M295.0 315.4h.01M294.7 314.5h.01M294.3 317.6h.01M295.8 319.3h.01M295.9 316.2h.01M292.8 315.7h.01M289.0 316.4h.01M296.4 320.8h.01M290.3 318.5h.01M295.4 310.3h.01M294.1 318.6h.01M295.4 318.3h.01M287.5 307.1h.01M299.3 315.1h.01M297.0 323.2h.01M293.3 311.4h.01M297.3 316.8h.01M294.6 319.4h.01M296.0 322.0h.01M288.5 310.1h.01M293.4 317.0h.01M295.5 316.3h.01M292.4 327.0h.01M297.3 322.7h.01M296.3 313.1h.01M292.7 316.7h.01M289.5 312.7h.01M293.5 311.0h.01M294.7 319.3h.01M292.3 315.3h.01M294.9 319.4h.01M294.2 311.0h.01M287.9 327.1h.01M290.9 315.2h.01M287.2 313.1h.01M290.7 320.9h.01" stroke="#777" stroke-opacity="0.3" stroke-width="0.84" stroke-linecap="round" fill="none"/>
<path d="M304.9 306.7h.01M316.0 307.9h.01M314.2 307.9h.01M310.2 308.8h.01M323.9 308.7h.01M315.4 310.1h.01M320.4 307.2h.01M315.2 307.7h.01M317.8 310.1h.01M314.5 308.3h.01M318.6 307.0h.01M315.6 309.3h.01M323.6 306.1h.01M321.5 308.1h.01M324.4 309.3h.01M327.7 308.9h.01M316.0 307.4h.01M310.9 309.2h.01M320.5 309.5h.01M319.7 306.6h.01M316.0 308.2h.01M318.8 309.5h.01M325.0 308.9h.01M307.8 307.2h.01M307.5 307.5h.01M312.1 308.8h.01M316.9 309.9h.01M323.3 307.9h.01M322.7 308.5h.01M320.3 310.2h.01M312.3 308.4h.01M325.6 307.5h.01M319.1 308.7h.01M315.9 306.8h.01M314.6 307.2h.01M323.3 308.8h.01M321.5 307.0h.01M320.5 308.7h.01M323.2 307.6h.01M322.0 310.2h.01M326.9 307.3h.01M312.5 306.6h.01M322.8 309.3h.01M319.7 307.4h.01M324.2 310.5h.01M317.8 308.3h.01M323.9 309.1h.01M324.6 308.0h.01M319.7 308.1h.01M315.2 308.1h.01M316.6 309.1h.01M316.5 308.6h.01M314.0 306.9h.01M325.1 307.2h.01M327.0 309.7h.01M306.7 307.7h.01M315.9 308.5h.01M317.1 307.7h.01M324.2 308.3h.01M322.8 307.6h.01" stroke="#555" stroke-opacity="0.4" stroke-width="0.84" stroke-linecap="round" fill="none"/>
<path d="M324.8 310.5h.01M325.1 306.5h.01M325.2 310.1h.01M325.2 307.1h.01M325.8 309.9h.01M325.1 307.8h.01M325.0 312.8h.01M325.2 311.2h.01M325.2 309.0h.01M323.7 308.6h.01M325.3 307.8h.01M325.0 306.0h.01M324.1 308.6h.01M324.8 308.2h.01M325.2 307.5h.01M324.7 311.4h.01M324.4 307.5h.01M325.1 306.4h.01M324.5 309.7h.01M326.0 308.5h.01M327.9 309.7h.01M326.3 306.9h.01M326.2 311.1h.01M325.0 311.3h.01M324.7 306.4h.01M325.3 307.0h.01M325.8 306.5h.01M325.4 305.0h.01M325.3 310.0h.01M325.1 308.8h.01M326.2 306.5h.01M324.3 308.4h.01M325.5 307.9h.01M324.5 310.3h.01M324.4 307.9h.01" stroke="#333" stroke-opacity="0.6" stroke-width="0.84" stroke-linecap="round" fill="none"/>
<rect x="285.20" y="352.70" width="50.80" height="50.00" fill="#fff" stroke="#b8b8b8" stroke-width="0.7"/>
<line x1="308.1" y1="352.7" x2="308.1" y2="402.7" stroke="#585858" stroke-width="1.15"/>
<line x1="285.2" y1="382.9" x2="336" y2="382.9" stroke="#585858" stroke-width="1.15"/>
<path d="M287.2 402.7v1M298.9 402.7v1M310.6 402.7v1M322.3 402.7v1M334.0 402.7v1M285.2 354.7h-1M285.2 366.2h-1M285.2 377.7h-1M285.2 389.2h-1M285.2 400.7h-1" stroke="#999" stroke-width="0.5" fill="none"/>
<path d="M295.5 395.4h.01M293.7 389.0h.01M304.7 388.9h.01M299.3 391.8h.01M293.6 392.2h.01M294.6 393.7h.01M296.0 388.3h.01M303.9 395.1h.01M296.7 391.1h.01M301.9 390.5h.01M292.1 395.3h.01M291.4 389.1h.01M302.1 385.7h.01M295.4 392.9h.01M296.9 386.3h.01M294.7 391.0h.01M304.3 396.6h.01M292.4 396.1h.01M298.6 391.9h.01M294.6 391.2h.01M288.9 389.8h.01M299.9 398.5h.01M304.0 390.8h.01M298.5 382.3h.01M294.5 387.1h.01M299.4 385.4h.01M291.1 387.8h.01M297.5 395.9h.01M291.6 400.0h.01M296.4 388.9h.01M297.3 392.3h.01M299.4 393.8h.01M305.4 397.3h.01M292.9 395.7h.01M299.1 388.2h.01M292.4 389.0h.01M294.8 397.6h.01M293.2 392.7h.01M298.9 396.5h.01M297.1 388.0h.01M305.5 396.0h.01M301.8 399.2h.01M302.0 394.1h.01M297.8 395.1h.01M289.0 395.8h.01M291.4 394.2h.01M291.2 395.4h.01M296.6 394.5h.01M291.7 391.2h.01M295.5 391.2h.01M293.8 388.7h.01M299.1 390.8h.01M292.1 393.9h.01M292.1 391.7h.01M293.5 388.5h.01M294.7 389.0h.01M290.2 393.9h.01M294.4 386.3h.01M294.0 393.2h.01M297.6 394.0h.01M296.9 394.9h.01M293.5 389.1h.01M298.5 390.7h.01M295.8 395.1h.01M299.9 397.5h.01M292.7 390.9h.01M298.2 386.4h.01M290.2 394.9h.01M293.0 388.5h.01M299.3 394.6h.01M299.8 391.0h.01M294.5 391.0h.01M297.1 383.9h.01M292.7 395.4h.01M292.3 392.1h.01M296.3 394.6h.01M293.6 387.7h.01M306.8 389.4h.01M303.3 385.1h.01M296.2 391.6h.01M304.1 400.9h.01M300.1 388.2h.01M292.2 389.3h.01M293.5 393.5h.01M292.3 391.4h.01M302.3 398.4h.01M287.5 388.4h.01M294.1 397.8h.01M294.3 400.4h.01M297.4 398.4h.01M291.9 391.1h.01M300.3 394.8h.01M287.5 391.3h.01M296.5 395.0h.01M292.9 399.7h.01M296.4 398.5h.01M297.5 392.8h.01M294.3 387.5h.01M299.6 395.6h.01M299.9 390.8h.01M291.3 390.8h.01M294.4 392.4h.01M300.1 388.6h.01M293.6 395.3h.01M299.7 401.6h.01M298.1 388.9h.01M291.2 389.1h.01M296.1 393.5h.01M295.5 389.8h.01M294.9 392.1h.01M298.4 392.8h.01M292.2 387.5h.01M302.3 392.0h.01M295.0 392.3h.01M300.7 391.1h.01M296.5 391.4h.01M298.3 388.2h.01M296.7 396.7h.01M301.0 395.0h.01M297.1 399.0h.01M298.9 398.2h.01M290.5 387.8h.01M299.3 391.3h.01M293.8 388.5h.01M302.3 387.4h.01M296.2 386.6h.01M295.0 401.8h.01M306.5 390.4h.01M291.3 399.2h.01M292.0 385.0h.01M297.3 387.9h.01M289.4 397.1h.01M292.5 388.0h.01M296.5 391.6h.01M300.7 392.8h.01M302.8 397.1h.01M303.6 397.1h.01M296.1 394.7h.01M295.9 385.9h.01M290.6 395.5h.01M290.1 392.1h.01M291.2 393.4h.01M294.9 390.5h.01M292.0 383.2h.01M296.1 387.0h.01M294.5 394.0h.01M300.4 395.3h.01M302.3 386.5h.01M298.7 398.9h.01M297.5 387.8h.01M297.5 390.3h.01M292.9 396.8h.01M295.0 387.8h.01M292.8 400.6h.01M292.0 395.2h.01M296.6 397.3h.01M294.5 388.5h.01M292.9 388.1h.01M307.2 393.2h.01M294.4 397.6h.01M298.7 391.7h.01M298.5 393.5h.01M300.7 399.3h.01M294.4 392.3h.01M295.0 397.5h.01M297.5 395.7h.01M299.7 389.8h.01M296.3 398.2h.01M299.8 395.8h.01M294.5 390.9h.01M292.0 391.3h.01M295.5 386.5h.01M300.9 389.2h.01M296.9 394.9h.01M293.3 384.9h.01M300.0 394.1h.01M294.7 397.1h.01M299.7 388.4h.01M295.4 385.1h.01M294.6 398.3h.01M292.1 395.8h.01M289.1 391.2h.01M299.9 399.6h.01M297.8 395.6h.01M303.3 382.3h.01M288.3 400.3h.01M306.6 394.9h.01M296.1 393.5h.01M295.9 389.9h.01M295.7 391.9h.01M298.7 395.2h.01M300.1 394.9h.01M291.5 398.2h.01M297.2 390.2h.01M304.0 387.9h.01M290.6 390.3h.01M297.6 395.7h.01M296.3 395.2h.01M292.7 389.9h.01M296.3 386.8h.01M296.6 390.8h.01M298.8 388.2h.01M293.5 390.1h.01M294.2 388.3h.01M294.6 386.8h.01M298.1 395.2h.01M295.7 391.6h.01M291.9 388.4h.01M294.8 388.7h.01M290.6 393.1h.01M295.7 390.7h.01M292.2 392.2h.01M292.7 390.6h.01M296.6 395.4h.01M299.1 389.9h.01M301.1 387.6h.01M295.0 397.8h.01M306.1 392.9h.01M294.2 390.9h.01M290.5 391.8h.01M293.9 389.3h.01M301.0 389.2h.01M303.2 395.9h.01M298.6 390.0h.01M293.6 384.1h.01M297.0 391.3h.01M297.5 389.6h.01M297.9 386.2h.01M286.2 394.4h.01M300.5 379.3h.01M301.4 391.0h.01M295.1 386.0h.01M291.4 395.4h.01M292.6 392.3h.01M295.1 400.7h.01M299.7 386.9h.01M293.7 387.6h.01M289.7 389.6h.01M300.6 392.6h.01M298.7 391.8h.01M293.9 392.8h.01M295.4 400.4h.01M303.6 394.0h.01M298.4 384.1h.01M292.3 395.8h.01M301.1 390.8h.01M294.8 390.5h.01M299.2 392.5h.01M302.3 397.3h.01M294.4 389.9h.01M294.7 388.8h.01M293.9 392.1h.01M299.6 385.8h.01M289.7 389.2h.01M294.4 394.3h.01M292.3 398.7h.01M293.5 391.5h.01M296.0 397.3h.01M297.1 392.5h.01M293.4 393.1h.01M297.5 390.9h.01M295.7 384.7h.01M293.5 397.3h.01M301.9 392.1h.01M286.4 400.0h.01M294.0 396.6h.01M293.1 398.1h.01M300.8 388.0h.01M294.8 387.4h.01M297.0 390.7h.01M289.3 388.0h.01M296.8 386.1h.01M300.4 394.3h.01M295.0 398.2h.01M291.7 395.3h.01M289.9 391.0h.01M298.5 390.2h.01M295.3 395.1h.01M302.4 397.8h.01M297.7 391.3h.01M289.5 399.6h.01M303.9 383.4h.01M299.5 392.2h.01M298.8 393.7h.01M294.9 392.4h.01M295.6 397.3h.01M294.6 390.1h.01M298.6 395.1h.01M297.6 393.6h.01M302.1 397.1h.01M296.7 391.5h.01M298.6 384.6h.01M293.5 389.5h.01M296.5 390.8h.01M306.4 395.5h.01M297.5 401.8h.01M295.7 391.1h.01M301.1 395.9h.01M299.8 397.5h.01M294.2 389.6h.01M292.6 392.8h.01M300.1 388.0h.01M293.4 386.8h.01M304.4 395.7h.01M296.7 387.3h.01M291.3 389.7h.01M295.9 387.1h.01M294.8 397.5h.01M295.8 392.8h.01M286.7 391.3h.01M295.1 389.5h.01M289.8 392.1h.01M291.3 390.1h.01M288.8 392.0h.01M299.7 388.9h.01M297.1 386.1h.01M298.2 394.7h.01M294.1 396.1h.01M291.9 392.6h.01M303.0 392.3h.01M290.9 397.2h.01M298.1 391.2h.01M287.9 384.5h.01M289.2 398.6h.01M297.0 388.8h.01M300.7 398.5h.01M292.1 394.4h.01M288.6 394.0h.01M303.6 386.5h.01M296.0 389.7h.01M295.3 392.8h.01M297.0 396.1h.01M298.0 396.8h.01M300.1 397.0h.01M292.8 394.1h.01M294.1 388.9h.01M304.2 393.6h.01M295.9 383.6h.01M294.7 395.6h.01M294.9 390.1h.01M302.1 391.1h.01M294.3 392.0h.01M294.7 396.8h.01M298.2 392.1h.01M294.2 391.5h.01M303.0 391.1h.01M298.6 385.8h.01M297.1 395.3h.01M301.2 393.7h.01M298.2 393.8h.01M300.3 401.0h.01M296.6 389.0h.01M298.3 391.9h.01M298.5 395.7h.01M296.4 390.6h.01M297.1 387.2h.01M296.9 388.7h.01M297.7 392.9h.01M294.8 387.4h.01M296.0 389.5h.01M295.1 395.3h.01M299.8 387.0h.01M299.8 398.1h.01M300.6 393.6h.01M295.4 399.7h.01M294.4 386.0h.01M296.1 393.6h.01M291.3 387.3h.01M304.3 392.9h.01M299.1 390.0h.01M289.2 391.7h.01M301.5 389.6h.01M288.0 391.7h.01M294.5 392.5h.01M291.3 391.1h.01M293.4 396.1h.01M296.4 396.1h.01M295.5 383.4h.01M287.3 394.6h.01M299.5 396.1h.01M295.4 384.9h.01M293.6 394.1h.01M301.7 391.0h.01M293.3 389.1h.01M300.1 396.0h.01M287.9 397.5h.01M291.8 386.2h.01M288.9 389.4h.01M290.4 389.6h.01M296.4 394.1h.01M293.7 385.7h.01M294.0 389.5h.01M288.0 393.0h.01M289.4 385.1h.01M302.3 396.4h.01M302.0 392.9h.01M294.0 392.0h.01M289.9 395.5h.01M296.9 391.1h.01M287.7 391.9h.01M302.8 398.5h.01M299.5 390.9h.01M296.3 394.7h.01M296.6 396.8h.01M292.9 382.7h.01M289.8 395.2h.01M300.4 392.4h.01M298.1 392.7h.01M296.5 390.4h.01M294.0 397.4h.01M294.6 392.2h.01M300.9 396.5h.01M294.1 393.5h.01M291.4 393.0h.01M297.1 392.4h.01M296.5 393.9h.01M296.1 390.3h.01M291.6 391.4h.01M302.7 391.4h.01M293.0 390.4h.01M290.6 394.4h.01M291.5 396.2h.01M299.7 394.8h.01M300.2 392.0h.01M288.2 392.1h.01M298.5 385.9h.01M290.5 397.0h.01M297.6 398.1h.01M298.6 392.7h.01M297.6 396.0h.01M295.6 391.5h.01M297.1 391.1h.01M306.1 389.2h.01M289.2 387.0h.01M300.3 390.7h.01M296.4 391.5h.01M297.0 386.3h.01M296.1 390.0h.01M300.4 395.0h.01M290.3 388.3h.01M298.2 397.4h.01M299.1 391.8h.01M300.6 382.5h.01M293.4 388.3h.01M291.3 394.8h.01M297.0 393.6h.01M295.2 395.0h.01M299.1 390.0h.01M299.8 388.5h.01M303.4 386.9h.01M294.5 387.8h.01M295.9 397.9h.01M292.5 399.9h.01M301.9 394.0h.01M293.2 396.2h.01M299.9 392.2h.01M306.5 389.6h.01M290.0 391.5h.01M298.3 399.6h.01M288.1 393.1h.01M301.2 389.6h.01M293.8 387.3h.01M299.1 395.9h.01M298.3 393.4h.01M300.1 391.9h.01M298.9 395.8h.01M301.4 394.6h.01M296.1 395.4h.01M289.0 385.0h.01M302.8 393.0h.01M291.2 390.0h.01M295.1 392.7h.01M292.4 396.6h.01M291.0 399.4h.01M298.7 385.3h.01M290.4 392.7h.01M296.9 390.6h.01M295.8 393.1h.01M290.8 392.7h.01M305.7 389.7h.01M291.3 395.2h.01M301.6 396.8h.01M293.0 392.1h.01M296.6 391.5h.01M297.5 397.0h.01M298.2 392.4h.01M294.9 400.0h.01M290.4 400.9h.01M299.0 392.8h.01M292.5 400.2h.01M301.1 396.3h.01M304.9 384.8h.01M296.2 391.1h.01M292.6 392.7h.01M298.1 394.6h.01M295.1 386.8h.01M298.2 395.0h.01M305.1 396.4h.01M295.8 387.5h.01M307.8 389.5h.01M296.6 395.6h.01M298.0 398.0h.01M291.2 389.5h.01M296.5 387.2h.01M293.1 398.3h.01M297.1 392.0h.01M293.2 392.6h.01M295.6 387.8h.01M299.2 387.0h.01M301.4 391.0h.01M285.7 385.8h.01M297.0 388.7h.01M303.8 398.3h.01M305.1 396.2h.01M301.8 389.8h.01M301.5 390.5h.01M295.5 386.6h.01M296.0 394.1h.01M295.5 387.7h.01M299.8 396.3h.01M295.4 395.7h.01M300.1 388.2h.01M295.6 384.5h.01M291.2 394.2h.01M291.8 394.1h.01M297.4 383.6h.01M293.6 398.9h.01M295.8 392.9h.01M292.6 385.6h.01M294.9 388.7h.01M296.3 384.1h.01M302.0 399.7h.01M292.4 393.8h.01M291.7 396.1h.01M292.0 391.8h.01M301.6 394.6h.01M294.3 385.9h.01M288.6 397.5h.01M298.1 392.6h.01M301.4 393.0h.01M292.5 392.0h.01M295.3 392.3h.01M306.9 394.9h.01M297.0 391.3h.01M292.7 388.1h.01M287.3 390.4h.01M288.9 384.5h.01M291.5 383.7h.01M301.9 397.7h.01M291.4 401.2h.01M298.7 381.6h.01M295.8 388.1h.01M287.9 391.3h.01M300.9 394.3h.01M289.2 389.6h.01M292.3 397.3h.01M295.3 388.2h.01M291.6 383.9h.01M292.0 396.2h.01M287.1 393.2h.01M295.2 395.9h.01M290.6 396.3h.01M288.4 392.3h.01M294.8 392.9h.01M291.3 396.1h.01M306.3 398.9h.01M291.4 389.9h.01M299.0 393.0h.01M292.3 397.7h.01M298.1 396.8h.01M294.9 397.9h.01M293.6 387.6h.01M295.7 386.4h.01M301.4 395.6h.01M288.1 393.1h.01M299.6 390.9h.01M297.6 389.9h.01M295.4 392.0h.01M297.9 388.2h.01M290.6 393.8h.01M293.4 394.6h.01M293.5 386.8h.01M299.1 393.5h.01M299.0 390.9h.01M294.1 397.8h.01M288.1 399.9h.01M298.1 392.2h.01M296.1 395.0h.01M292.2 393.6h.01M291.4 384.4h.01M296.6 392.8h.01M298.7 394.8h.01M298.9 395.8h.01M291.0 397.6h.01M307.8 390.0h.01M290.0 395.4h.01M299.9 396.8h.01M302.7 386.4h.01M297.4 394.4h.01M301.4 388.6h.01M295.8 390.8h.01M295.0 391.8h.01M295.0 384.8h.01M295.6 392.7h.01M294.0 377.1h.01M292.6 389.6h.01M291.8 399.3h.01M299.9 391.6h.01M291.3 394.4h.01M293.0 398.8h.01M300.7 391.9h.01M298.5 389.0h.01M288.6 396.0h.01M303.1 391.1h.01M293.3 384.7h.01M305.4 387.2h.01M291.3 391.6h.01M301.2 392.6h.01M295.6 392.5h.01M299.6 392.2h.01M296.4 392.1h.01M290.7 398.2h.01M292.6 386.7h.01M293.7 392.5h.01M299.4 386.1h.01M290.0 393.2h.01M297.4 387.7h.01M290.6 393.2h.01M295.1 385.4h.01M291.7 398.8h.01M290.9 396.9h.01M288.8 398.8h.01M303.0 389.7h.01M292.6 395.1h.01M290.1 394.8h.01M301.2 393.5h.01M297.2 391.7h.01M300.2 388.9h.01M302.9 392.3h.01M294.2 385.3h.01M293.7 393.4h.01M301.3 385.4h.01M295.1 389.4h.01M290.3 392.4h.01M292.3 396.2h.01M287.1 384.0h.01M298.1 390.9h.01M296.3 388.2h.01M291.0 389.2h.01M295.5 388.8h.01M293.8 388.7h.01M296.8 387.5h.01M286.3 381.1h.01M295.6 392.8h.01M300.1 389.2h.01M290.6 386.0h.01M299.1 389.7h.01M300.2 392.1h.01M294.5 384.4h.01M292.6 395.8h.01M292.9 395.3h.01M288.3 396.8h.01M308.3 397.2h.01M297.2 387.1h.01M293.3 389.6h.01M296.5 383.7h.01M291.8 395.8h.01M296.4 395.6h.01M299.6 387.5h.01M289.6 394.4h.01M295.9 392.7h.01M292.0 396.8h.01M297.9 397.3h.01M294.1 395.4h.01M295.4 388.3h.01M295.3 385.3h.01M294.9 393.2h.01M298.8 387.9h.01M289.7 389.2h.01M286.3 389.6h.01M307.5 393.0h.01M292.3 389.5h.01M303.7 387.4h.01M295.2 392.1h.01M292.4 389.3h.01M288.1 388.8h.01M301.6 398.5h.01M294.4 395.4h.01M297.8 392.9h.01M295.1 397.6h.01M298.3 391.4h.01M294.6 396.4h.01M293.0 389.3h.01M294.5 390.3h.01M301.4 393.9h.01M295.3 390.1h.01M302.1 394.3h.01M305.1 396.3h.01M294.7 390.0h.01M294.4 393.2h.01M299.3 394.5h.01" stroke="#222" stroke-opacity="0.4" stroke-width="0.84" stroke-linecap="round" fill="none"/>
<ellipse cx="295.7" cy="392.4" rx="5.6" ry="5.2" fill="#444" fill-opacity="0.5" filter="url(#b2)"/>
<path d="M321.8 357.4h.01M306.3 361.6h.01M295.7 367.3h.01M299.5 365.0h.01M290.8 375.1h.01M302.8 371.4h.01M294.9 361.0h.01M300.0 371.8h.01M300.4 369.9h.01M295.2 374.9h.01M310.3 369.9h.01M303.2 372.5h.01M306.7 365.0h.01M299.6 368.8h.01M296.9 364.8h.01M307.3 369.4h.01M303.1 370.9h.01M321.9 358.3h.01M308.6 362.7h.01M299.5 369.3h.01M314.4 367.0h.01M312.5 372.2h.01M302.3 372.0h.01M320.5 365.3h.01M288.1 370.8h.01M303.1 361.6h.01M305.4 370.0h.01M303.4 367.0h.01M320.7 361.0h.01M296.5 369.5h.01M317.2 366.5h.01M306.7 365.0h.01M318.4 367.3h.01M288.6 372.6h.01M312.1 363.1h.01M293.1 369.1h.01M288.4 373.5h.01M300.9 361.6h.01M305.8 371.5h.01M293.3 368.8h.01M324.2 363.2h.01M300.4 369.1h.01M313.8 361.3h.01M305.0 361.1h.01M290.1 365.1h.01M314.5 366.1h.01M313.3 369.8h.01M306.5 367.8h.01M310.1 367.8h.01M295.3 368.6h.01M304.5 367.5h.01M298.5 368.4h.01M308.9 367.0h.01M311.9 368.6h.01M311.6 369.3h.01M314.4 370.2h.01M312.3 363.1h.01M329.3 365.5h.01M318.5 366.6h.01M306.5 362.6h.01M310.4 364.6h.01M302.0 359.9h.01M321.5 358.8h.01M295.0 371.5h.01M311.7 362.6h.01M305.9 368.0h.01M307.6 368.6h.01M313.8 363.7h.01M289.7 379.2h.01M302.1 364.2h.01M313.5 367.3h.01M299.8 377.4h.01M305.6 368.3h.01M309.2 365.3h.01M309.2 361.3h.01M302.0 375.0h.01M314.8 363.3h.01M300.2 362.8h.01M304.8 366.6h.01M299.6 362.7h.01M307.6 368.2h.01M317.4 366.1h.01M321.2 367.7h.01M304.9 363.3h.01M310.3 369.5h.01M290.5 366.2h.01M312.9 363.2h.01M320.6 364.2h.01M300.5 363.4h.01M312.0 359.0h.01M292.9 365.3h.01M323.1 369.2h.01M303.8 366.1h.01M313.0 370.0h.01M297.9 377.3h.01M303.9 371.8h.01M299.0 376.2h.01M303.8 362.7h.01M325.6 359.6h.01M306.0 362.3h.01M312.8 366.0h.01M303.1 366.2h.01M300.3 365.7h.01M291.9 375.0h.01M315.0 359.5h.01M294.3 371.4h.01M328.7 360.6h.01M302.8 366.8h.01M308.5 365.7h.01M316.9 368.0h.01M311.5 371.6h.01M303.7 365.5h.01" stroke="#888" stroke-opacity="0.3" stroke-width="0.84" stroke-linecap="round" fill="none"/>
<path d="M288.0 360.2h.01M294.1 366.6h.01M296.4 361.5h.01M292.6 370.0h.01M289.5 377.6h.01M291.7 374.3h.01M291.3 372.7h.01M291.6 372.4h.01M292.7 368.6h.01M294.4 371.1h.01M289.9 366.7h.01M294.4 378.7h.01M288.8 369.9h.01M294.4 377.2h.01M295.3 366.1h.01M293.1 376.5h.01M293.8 370.9h.01M289.2 372.8h.01M292.8 372.2h.01M297.8 378.0h.01M290.4 373.2h.01M292.0 372.5h.01M298.2 376.6h.01M293.1 368.7h.01M292.5 373.8h.01M291.4 377.5h.01M293.1 366.1h.01M299.6 357.4h.01M292.1 371.4h.01M296.2 377.6h.01M297.7 379.8h.01M294.0 372.6h.01M296.3 371.9h.01M288.9 369.7h.01M295.1 375.1h.01M289.4 378.0h.01M294.0 364.5h.01M294.5 377.0h.01M294.7 370.4h.01M290.4 377.6h.01M293.7 372.0h.01M291.7 366.8h.01M287.0 370.3h.01M296.6 375.8h.01M290.8 379.7h.01M292.3 366.9h.01M296.1 378.9h.01M291.7 365.9h.01M292.8 359.8h.01M293.2 379.6h.01M293.9 368.3h.01M295.3 369.5h.01M297.1 370.2h.01M299.6 370.2h.01M293.6 367.3h.01M288.9 373.7h.01M294.1 367.1h.01M294.8 369.9h.01M291.2 371.6h.01M294.3 375.6h.01" stroke="#888" stroke-opacity="0.3" stroke-width="0.84" stroke-linecap="round" fill="none"/>
<path d="M323.0 364.6h.01M315.1 362.9h.01M319.5 362.1h.01M317.3 363.4h.01M317.6 364.3h.01M322.2 366.6h.01M321.5 365.6h.01M313.7 365.7h.01M323.2 361.8h.01M328.1 363.1h.01M308.4 366.8h.01M318.3 362.7h.01M315.7 365.7h.01M319.0 363.4h.01M322.6 362.5h.01M314.6 363.1h.01M315.0 365.1h.01M317.1 362.3h.01M316.2 360.8h.01M318.7 364.2h.01M320.4 363.6h.01M319.6 362.5h.01M318.1 364.2h.01M313.1 364.9h.01M318.6 364.1h.01M316.1 367.2h.01M318.0 362.8h.01M314.6 364.9h.01M317.2 362.7h.01M315.1 365.5h.01" stroke="#999" stroke-opacity="0.35" stroke-width="0.84" stroke-linecap="round" fill="none"/>
<text x="360.3" y="293" font-size="10" text-anchor="middle">preproB</text>
<text x="279.9" y="350.1" font-size="10" text-anchor="middle" transform="rotate(-90 279.9 350.1)">Ann-V</text>
<text x="310.7" y="414.2" font-size="10" text-anchor="middle">7AAD</text>
<path d="M375 321.8V407.8H432" stroke="#000" fill="none" stroke-width="1.2"/>
<line x1="373.3" y1="323.8" x2="376.7" y2="323.8" stroke="#000" stroke-width="1"/>
<text x="372.9" y="327.0" font-size="10" text-anchor="end">16</text>
<line x1="373.3" y1="344.3" x2="376.7" y2="344.3" stroke="#000" stroke-width="1"/>
<text x="372.9" y="347.5" font-size="10" text-anchor="end">12</text>
<line x1="373.3" y1="364.4" x2="376.7" y2="364.4" stroke="#000" stroke-width="1"/>
<text x="372.9" y="367.59999999999997" font-size="10" text-anchor="end">8</text>
<line x1="373.3" y1="384.8" x2="376.7" y2="384.8" stroke="#000" stroke-width="1"/>
<text x="372.9" y="388.0" font-size="10" text-anchor="end">4</text>
<text x="358.6" y="360.8" font-size="10" text-anchor="middle" transform="rotate(-90 358.6 360.8)">Percent</text>
<rect x="382.00" y="329.80" width="10.30" height="78.00" fill="#fff" stroke="#000" stroke-width="1.1"/>
<line x1="387.15" y1="329.8" x2="387.15" y2="321" stroke="#000" stroke-width="1.1"/>
<line x1="383.15" y1="321" x2="391.15" y2="321" stroke="#000" stroke-width="1.1"/>
<rect x="392.30" y="338.50" width="9.20" height="69.30" fill="#1f9fe3" stroke="#000" stroke-width="1.1"/>
<line x1="396.9" y1="338.5" x2="396.9" y2="328.3" stroke="#000" stroke-width="1.1"/>
<line x1="392.9" y1="328.3" x2="400.9" y2="328.3" stroke="#000" stroke-width="1.1"/>
<text x="400.7" y="326.6" font-size="9.5" text-anchor="middle">NS</text>
<rect x="407.70" y="361.00" width="10.80" height="46.80" fill="#fff" stroke="#000" stroke-width="1.1"/>
<line x1="413.1" y1="361" x2="413.1" y2="351.4" stroke="#000" stroke-width="1.1"/>
<line x1="409.1" y1="351.4" x2="417.1" y2="351.4" stroke="#000" stroke-width="1.1"/>
<rect x="418.50" y="390.00" width="9.20" height="17.80" fill="#1f9fe3" stroke="#000" stroke-width="1.1"/>
<line x1="423.1" y1="390" x2="423.1" y2="387" stroke="#000" stroke-width="1.1"/>
<line x1="419.1" y1="387" x2="427.1" y2="387" stroke="#000" stroke-width="1.1"/>
<text x="423" y="387.60" font-size="8.5" font-weight="bold" text-anchor="middle" style="stroke-width:0">*</text>
<text x="385.4" y="418.6" font-size="10.4">A<tspan font-size="6.5" dy="-3.3">+</tspan><tspan dy="3.3">7</tspan><tspan font-size="6.5" dy="-3.3">-</tspan></text>
<text x="411.2" y="418.6" font-size="10.4">A<tspan font-size="6.5" dy="-3.3">+</tspan><tspan dy="3.3">7</tspan><tspan font-size="6.5" dy="-3.3">+</tspan></text>
<rect x="433.10" y="325.90" width="9.80" height="10.40" fill="#fff" stroke="#000" stroke-width="1.4"/>
<rect x="433.10" y="340.00" width="9.80" height="11.00" fill="#1f9fe3" stroke="#000" stroke-width="1.4"/>
<text x="447.8" y="333.6" font-size="10" text-anchor="start">hCD4-</text>
<text x="447.8" y="348.9" font-size="10" text-anchor="start">hCD4+</text>
</svg></body></html>
